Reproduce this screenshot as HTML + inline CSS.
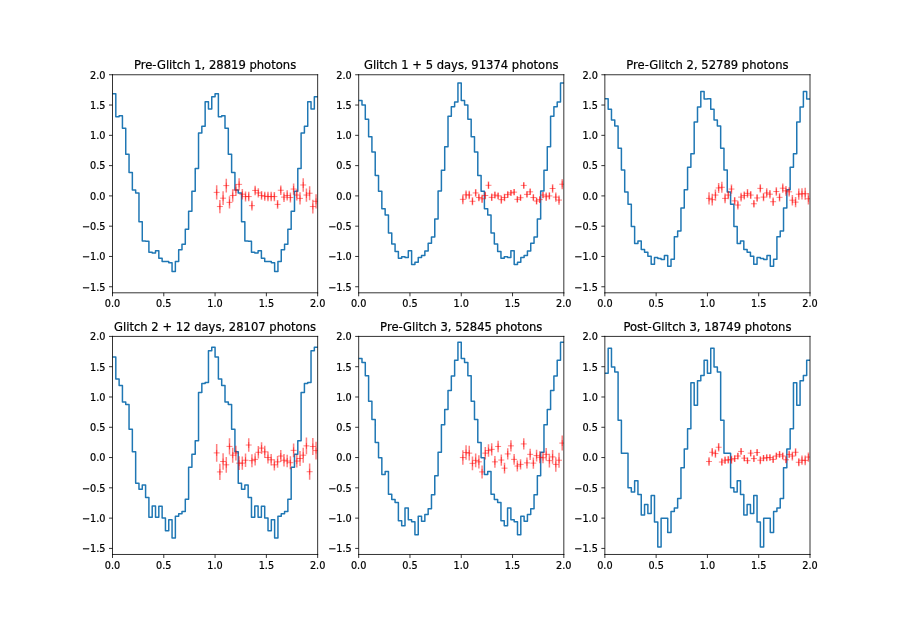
<!DOCTYPE html><html><head><meta charset="utf-8"><title>Glitch light curves</title><style>html,body{margin:0;padding:0;background:#fff;}svg{display:block;}text{stroke:#000;stroke-width:0.22px;}</style></head><body><svg width="900" height="623" viewBox="0 0 900 623" version="1.1">
 <defs>
  <style type="text/css">*{stroke-linejoin: round; stroke-linecap: butt}</style>
 </defs>
 <g id="figure_1">
  <g id="patch_1">
   <path d="M 0 623 
L 900 623 
L 900 0 
L 0 0 
z
" style="fill: #ffffff"/>
  </g>
  <g id="axes_1">
   <g id="patch_2">
    <path d="M 112.5 292.81 
L 317.647 292.81 
L 317.647 74.76 
L 112.5 74.76 
z
" style="fill: #ffffff"/>
   </g>
   <g id="matplotlib.axis_1">
    <g id="xtick_1">
     <g id="line2d_1">
      <g>
       <path d="M 0 0 L 0 3.5" transform="translate(112.5 292.81)" style="stroke: #000000; stroke-width: 0.8"/>
      </g>
     </g>
     <g id="text_1">
      <text style="font-size: 9.7px; font-family: 'DejaVu Sans', sans-serif; text-anchor: middle" x="112.5" y="307.408" transform="rotate(-0 112.5 307.408)">0.0</text>
     </g>
    </g>
    <g id="xtick_2">
     <g id="line2d_2">
      <g>
       <path d="M 0 0 L 0 3.5" transform="translate(163.786 292.81)" style="stroke: #000000; stroke-width: 0.8"/>
      </g>
     </g>
     <g id="text_2">
      <text style="font-size: 9.7px; font-family: 'DejaVu Sans', sans-serif; text-anchor: middle" x="163.786" y="307.408" transform="rotate(-0 163.786 307.408)">0.5</text>
     </g>
    </g>
    <g id="xtick_3">
     <g id="line2d_3">
      <g>
       <path d="M 0 0 L 0 3.5" transform="translate(215.073 292.81)" style="stroke: #000000; stroke-width: 0.8"/>
      </g>
     </g>
     <g id="text_3">
      <text style="font-size: 9.7px; font-family: 'DejaVu Sans', sans-serif; text-anchor: middle" x="215.073" y="307.408" transform="rotate(-0 215.073 307.408)">1.0</text>
     </g>
    </g>
    <g id="xtick_4">
     <g id="line2d_4">
      <g>
       <path d="M 0 0 L 0 3.5" transform="translate(266.360 292.81)" style="stroke: #000000; stroke-width: 0.8"/>
      </g>
     </g>
     <g id="text_4">
      <text style="font-size: 9.7px; font-family: 'DejaVu Sans', sans-serif; text-anchor: middle" x="266.360" y="307.408" transform="rotate(-0 266.360 307.408)">1.5</text>
     </g>
    </g>
    <g id="xtick_5">
     <g id="line2d_5">
      <g>
       <path d="M 0 0 L 0 3.5" transform="translate(317.647 292.81)" style="stroke: #000000; stroke-width: 0.8"/>
      </g>
     </g>
     <g id="text_5">
      <text style="font-size: 9.7px; font-family: 'DejaVu Sans', sans-serif; text-anchor: middle" x="317.647" y="307.408" transform="rotate(-0 317.647 307.408)">2.0</text>
     </g>
    </g>
   </g>
   <g id="matplotlib.axis_2">
    <g id="ytick_1">
     <g id="line2d_6">
      <g>
       <path d="M 0 0 L -3.5 0" transform="translate(112.5 286.753)" style="stroke: #000000; stroke-width: 0.8"/>
      </g>
     </g>
     <g id="text_6">
      <text style="font-size: 9.7px; font-family: 'DejaVu Sans', sans-serif; text-anchor: end" x="105.5" y="290.552" transform="rotate(-0 105.5 290.552)">−1.5</text>
     </g>
    </g>
    <g id="ytick_2">
     <g id="line2d_7">
      <g>
       <path d="M 0 0 L -3.5 0" transform="translate(112.5 256.468)" style="stroke: #000000; stroke-width: 0.8"/>
      </g>
     </g>
     <g id="text_7">
      <text style="font-size: 9.7px; font-family: 'DejaVu Sans', sans-serif; text-anchor: end" x="105.5" y="260.267" transform="rotate(-0 105.5 260.267)">−1.0</text>
     </g>
    </g>
    <g id="ytick_3">
     <g id="line2d_8">
      <g>
       <path d="M 0 0 L -3.5 0" transform="translate(112.5 226.183)" style="stroke: #000000; stroke-width: 0.8"/>
      </g>
     </g>
     <g id="text_8">
      <text style="font-size: 9.7px; font-family: 'DejaVu Sans', sans-serif; text-anchor: end" x="105.5" y="229.982" transform="rotate(-0 105.5 229.982)">−0.5</text>
     </g>
    </g>
    <g id="ytick_4">
     <g id="line2d_9">
      <g>
       <path d="M 0 0 L -3.5 0" transform="translate(112.5 195.898)" style="stroke: #000000; stroke-width: 0.8"/>
      </g>
     </g>
     <g id="text_9">
      <text style="font-size: 9.7px; font-family: 'DejaVu Sans', sans-serif; text-anchor: end" x="105.5" y="199.698" transform="rotate(-0 105.5 199.698)">0.0</text>
     </g>
    </g>
    <g id="ytick_5">
     <g id="line2d_10">
      <g>
       <path d="M 0 0 L -3.5 0" transform="translate(112.5 165.614)" style="stroke: #000000; stroke-width: 0.8"/>
      </g>
     </g>
     <g id="text_10">
      <text style="font-size: 9.7px; font-family: 'DejaVu Sans', sans-serif; text-anchor: end" x="105.5" y="169.413" transform="rotate(-0 105.5 169.413)">0.5</text>
     </g>
    </g>
    <g id="ytick_6">
     <g id="line2d_11">
      <g>
       <path d="M 0 0 L -3.5 0" transform="translate(112.5 135.329)" style="stroke: #000000; stroke-width: 0.8"/>
      </g>
     </g>
     <g id="text_11">
      <text style="font-size: 9.7px; font-family: 'DejaVu Sans', sans-serif; text-anchor: end" x="105.5" y="139.128" transform="rotate(-0 105.5 139.128)">1.0</text>
     </g>
    </g>
    <g id="ytick_7">
     <g id="line2d_12">
      <g>
       <path d="M 0 0 L -3.5 0" transform="translate(112.5 105.044)" style="stroke: #000000; stroke-width: 0.8"/>
      </g>
     </g>
     <g id="text_12">
      <text style="font-size: 9.7px; font-family: 'DejaVu Sans', sans-serif; text-anchor: end" x="105.5" y="108.843" transform="rotate(-0 105.5 108.843)">1.5</text>
     </g>
    </g>
    <g id="ytick_8">
     <g id="line2d_13">
      <g>
       <path d="M 0 0 L -3.5 0" transform="translate(112.5 74.76)" style="stroke: #000000; stroke-width: 0.8"/>
      </g>
     </g>
     <g id="text_13">
      <text style="font-size: 9.7px; font-family: 'DejaVu Sans', sans-serif; text-anchor: end" x="105.5" y="78.559" transform="rotate(-0 105.5 78.559)">2.0</text>
     </g>
    </g>
   </g>
   <g id="line2d_14">
    <path d="M 112.5 93.718 
L 115.808 93.718 
L 115.808 116.734 
L 119.117 116.734 
L 119.117 115.765 
L 122.426 115.765 
L 122.426 128.242 
L 125.735 128.242 
L 125.735 154.166 
L 129.044 154.166 
L 129.044 172.519 
L 132.352 172.519 
L 132.352 190.023 
L 135.661 190.023 
L 135.661 193.052 
L 138.970 193.052 
L 138.970 221.762 
L 142.279 221.762 
L 142.279 240.962 
L 145.588 240.962 
L 145.588 241.325 
L 148.897 241.325 
L 148.897 252.167 
L 152.205 252.167 
L 152.205 252.955 
L 155.514 252.955 
L 155.514 250.774 
L 158.823 250.774 
L 158.823 258.164 
L 162.132 258.164 
L 162.132 261.495 
L 165.441 261.495 
L 165.441 261.495 
L 168.75 261.495 
L 168.75 262.646 
L 172.058 262.646 
L 172.058 271.489 
L 175.367 271.489 
L 175.367 261.495 
L 178.676 261.495 
L 178.676 249.805 
L 181.985 249.805 
L 181.985 244.293 
L 185.294 244.293 
L 185.294 229.272 
L 188.602 229.272 
L 188.602 211.222 
L 191.911 211.222 
L 191.911 191.356 
L 195.220 191.356 
L 195.220 168.521 
L 198.529 168.521 
L 198.529 132.906 
L 201.838 132.906 
L 201.838 126.244 
L 205.147 126.244 
L 205.147 101.713 
L 208.455 101.713 
L 208.455 109.042 
L 211.764 109.042 
L 211.764 96.686 
L 215.073 96.686 
L 215.073 93.718 
L 218.382 93.718 
L 218.382 116.734 
L 221.691 116.734 
L 221.691 115.765 
L 225 115.765 
L 225 128.242 
L 228.308 128.242 
L 228.308 154.166 
L 231.617 154.166 
L 231.617 172.519 
L 234.926 172.519 
L 234.926 190.023 
L 238.235 190.023 
L 238.235 193.052 
L 241.544 193.052 
L 241.544 221.762 
L 244.852 221.762 
L 244.852 240.962 
L 248.161 240.962 
L 248.161 241.325 
L 251.470 241.325 
L 251.470 252.167 
L 254.779 252.167 
L 254.779 252.955 
L 258.088 252.955 
L 258.088 250.774 
L 261.397 250.774 
L 261.397 258.164 
L 264.705 258.164 
L 264.705 261.495 
L 268.014 261.495 
L 268.014 261.495 
L 271.323 261.495 
L 271.323 262.646 
L 274.632 262.646 
L 274.632 271.489 
L 277.941 271.489 
L 277.941 261.495 
L 281.25 261.495 
L 281.25 249.805 
L 284.558 249.805 
L 284.558 244.293 
L 287.867 244.293 
L 287.867 229.272 
L 291.176 229.272 
L 291.176 211.222 
L 294.485 211.222 
L 294.485 191.356 
L 297.794 191.356 
L 297.794 168.521 
L 301.102 168.521 
L 301.102 132.906 
L 304.411 132.906 
L 304.411 126.244 
L 307.720 126.244 
L 307.720 101.713 
L 311.029 101.713 
L 311.029 109.042 
L 314.338 109.042 
L 314.338 96.686 
L 317.647 96.686 
L 317.647 96.686 
" clip-path="url(#p9d9ce31a6b)" style="fill: none; stroke: #1f77b4; stroke-width: 1.5; stroke-linecap: square"/>
   </g>
   <g id="LineCollection_1">
    <path d="M 216.676 199.472 
L 216.676 185.299 
" clip-path="url(#p9d9ce31a6b)" style="fill: none; stroke: #ff0000; stroke-opacity: 0.5; stroke-width: 1.5"/>
    <path d="M 219.881 213.221 
L 219.881 199.896 
" clip-path="url(#p9d9ce31a6b)" style="fill: none; stroke: #ff0000; stroke-opacity: 0.5; stroke-width: 1.5"/>
    <path d="M 223.087 205.105 
L 223.087 191.295 
" clip-path="url(#p9d9ce31a6b)" style="fill: none; stroke: #ff0000; stroke-opacity: 0.5; stroke-width: 1.5"/>
    <path d="M 226.292 192.385 
L 226.292 178.818 
" clip-path="url(#p9d9ce31a6b)" style="fill: none; stroke: #ff0000; stroke-opacity: 0.5; stroke-width: 1.5"/>
    <path d="M 229.497 208.618 
L 229.497 196.141 
" clip-path="url(#p9d9ce31a6b)" style="fill: none; stroke: #ff0000; stroke-opacity: 0.5; stroke-width: 1.5"/>
    <path d="M 232.703 201.713 
L 232.703 189.236 
" clip-path="url(#p9d9ce31a6b)" style="fill: none; stroke: #ff0000; stroke-opacity: 0.5; stroke-width: 1.5"/>
    <path d="M 235.908 196.080 
L 235.908 183.966 
" clip-path="url(#p9d9ce31a6b)" style="fill: none; stroke: #ff0000; stroke-opacity: 0.5; stroke-width: 1.5"/>
    <path d="M 239.114 190.447 
L 239.114 178.333 
" clip-path="url(#p9d9ce31a6b)" style="fill: none; stroke: #ff0000; stroke-opacity: 0.5; stroke-width: 1.5"/>
    <path d="M 242.319 199.411 
L 242.319 188.993 
" clip-path="url(#p9d9ce31a6b)" style="fill: none; stroke: #ff0000; stroke-opacity: 0.5; stroke-width: 1.5"/>
    <path d="M 245.525 201.592 
L 245.525 191.537 
" clip-path="url(#p9d9ce31a6b)" style="fill: none; stroke: #ff0000; stroke-opacity: 0.5; stroke-width: 1.5"/>
    <path d="M 248.730 201.350 
L 248.730 191.780 
" clip-path="url(#p9d9ce31a6b)" style="fill: none; stroke: #ff0000; stroke-opacity: 0.5; stroke-width: 1.5"/>
    <path d="M 251.935 210.435 
L 251.935 200.865 
" clip-path="url(#p9d9ce31a6b)" style="fill: none; stroke: #ff0000; stroke-opacity: 0.5; stroke-width: 1.5"/>
    <path d="M 255.141 195.232 
L 255.141 185.662 
" clip-path="url(#p9d9ce31a6b)" style="fill: none; stroke: #ff0000; stroke-opacity: 0.5; stroke-width: 1.5"/>
    <path d="M 258.346 197.534 
L 258.346 188.327 
" clip-path="url(#p9d9ce31a6b)" style="fill: none; stroke: #ff0000; stroke-opacity: 0.5; stroke-width: 1.5"/>
    <path d="M 261.552 199.835 
L 261.552 191.113 
" clip-path="url(#p9d9ce31a6b)" style="fill: none; stroke: #ff0000; stroke-opacity: 0.5; stroke-width: 1.5"/>
    <path d="M 264.757 200.865 
L 264.757 191.659 
" clip-path="url(#p9d9ce31a6b)" style="fill: none; stroke: #ff0000; stroke-opacity: 0.5; stroke-width: 1.5"/>
    <path d="M 267.963 201.289 
L 267.963 191.840 
" clip-path="url(#p9d9ce31a6b)" style="fill: none; stroke: #ff0000; stroke-opacity: 0.5; stroke-width: 1.5"/>
    <path d="M 271.168 201.289 
L 271.168 191.840 
" clip-path="url(#p9d9ce31a6b)" style="fill: none; stroke: #ff0000; stroke-opacity: 0.5; stroke-width: 1.5"/>
    <path d="M 274.373 201.168 
L 274.373 191.961 
" clip-path="url(#p9d9ce31a6b)" style="fill: none; stroke: #ff0000; stroke-opacity: 0.5; stroke-width: 1.5"/>
    <path d="M 277.579 208.739 
L 277.579 200.017 
" clip-path="url(#p9d9ce31a6b)" style="fill: none; stroke: #ff0000; stroke-opacity: 0.5; stroke-width: 1.5"/>
    <path d="M 280.784 195.050 
L 280.784 185.480 
" clip-path="url(#p9d9ce31a6b)" style="fill: none; stroke: #ff0000; stroke-opacity: 0.5; stroke-width: 1.5"/>
    <path d="M 283.990 201.895 
L 283.990 192.325 
" clip-path="url(#p9d9ce31a6b)" style="fill: none; stroke: #ff0000; stroke-opacity: 0.5; stroke-width: 1.5"/>
    <path d="M 287.195 200.623 
L 287.195 190.326 
" clip-path="url(#p9d9ce31a6b)" style="fill: none; stroke: #ff0000; stroke-opacity: 0.5; stroke-width: 1.5"/>
    <path d="M 290.400 202.622 
L 290.400 192.446 
" clip-path="url(#p9d9ce31a6b)" style="fill: none; stroke: #ff0000; stroke-opacity: 0.5; stroke-width: 1.5"/>
    <path d="M 293.606 194.687 
L 293.606 183.421 
" clip-path="url(#p9d9ce31a6b)" style="fill: none; stroke: #ff0000; stroke-opacity: 0.5; stroke-width: 1.5"/>
    <path d="M 296.811 200.502 
L 296.811 189.599 
" clip-path="url(#p9d9ce31a6b)" style="fill: none; stroke: #ff0000; stroke-opacity: 0.5; stroke-width: 1.5"/>
    <path d="M 300.017 204.439 
L 300.017 192.325 
" clip-path="url(#p9d9ce31a6b)" style="fill: none; stroke: #ff0000; stroke-opacity: 0.5; stroke-width: 1.5"/>
    <path d="M 303.222 191.659 
L 303.222 178.333 
" clip-path="url(#p9d9ce31a6b)" style="fill: none; stroke: #ff0000; stroke-opacity: 0.5; stroke-width: 1.5"/>
    <path d="M 306.428 201.713 
L 306.428 188.388 
" clip-path="url(#p9d9ce31a6b)" style="fill: none; stroke: #ff0000; stroke-opacity: 0.5; stroke-width: 1.5"/>
    <path d="M 309.633 200.138 
L 309.633 186.328 
" clip-path="url(#p9d9ce31a6b)" style="fill: none; stroke: #ff0000; stroke-opacity: 0.5; stroke-width: 1.5"/>
    <path d="M 312.838 213.464 
L 312.838 199.654 
" clip-path="url(#p9d9ce31a6b)" style="fill: none; stroke: #ff0000; stroke-opacity: 0.5; stroke-width: 1.5"/>
    <path d="M 316.044 208.376 
L 316.044 194.202 
" clip-path="url(#p9d9ce31a6b)" style="fill: none; stroke: #ff0000; stroke-opacity: 0.5; stroke-width: 1.5"/>
   </g>
   <g id="line2d_15">
    <g clip-path="url(#p9d9ce31a6b)">
     <path d="M -3 0 L 3 0 M 0 3 L 0 -3" transform="translate(216.676 192.385)" style="fill: #ff0000; fill-opacity: 0.5; stroke: #ff0000; stroke-opacity: 0.5"/>
     <path d="M -3 0 L 3 0 M 0 3 L 0 -3" transform="translate(219.881 206.559)" style="fill: #ff0000; fill-opacity: 0.5; stroke: #ff0000; stroke-opacity: 0.5"/>
     <path d="M -3 0 L 3 0 M 0 3 L 0 -3" transform="translate(223.087 198.200)" style="fill: #ff0000; fill-opacity: 0.5; stroke: #ff0000; stroke-opacity: 0.5"/>
     <path d="M -3 0 L 3 0 M 0 3 L 0 -3" transform="translate(226.292 185.602)" style="fill: #ff0000; fill-opacity: 0.5; stroke: #ff0000; stroke-opacity: 0.5"/>
     <path d="M -3 0 L 3 0 M 0 3 L 0 -3" transform="translate(229.497 202.379)" style="fill: #ff0000; fill-opacity: 0.5; stroke: #ff0000; stroke-opacity: 0.5"/>
     <path d="M -3 0 L 3 0 M 0 3 L 0 -3" transform="translate(232.703 195.474)" style="fill: #ff0000; fill-opacity: 0.5; stroke: #ff0000; stroke-opacity: 0.5"/>
     <path d="M -3 0 L 3 0 M 0 3 L 0 -3" transform="translate(235.908 190.023)" style="fill: #ff0000; fill-opacity: 0.5; stroke: #ff0000; stroke-opacity: 0.5"/>
     <path d="M -3 0 L 3 0 M 0 3 L 0 -3" transform="translate(239.114 184.390)" style="fill: #ff0000; fill-opacity: 0.5; stroke: #ff0000; stroke-opacity: 0.5"/>
     <path d="M -3 0 L 3 0 M 0 3 L 0 -3" transform="translate(242.319 194.202)" style="fill: #ff0000; fill-opacity: 0.5; stroke: #ff0000; stroke-opacity: 0.5"/>
     <path d="M -3 0 L 3 0 M 0 3 L 0 -3" transform="translate(245.525 196.565)" style="fill: #ff0000; fill-opacity: 0.5; stroke: #ff0000; stroke-opacity: 0.5"/>
     <path d="M -3 0 L 3 0 M 0 3 L 0 -3" transform="translate(248.730 196.565)" style="fill: #ff0000; fill-opacity: 0.5; stroke: #ff0000; stroke-opacity: 0.5"/>
     <path d="M -3 0 L 3 0 M 0 3 L 0 -3" transform="translate(251.935 205.650)" style="fill: #ff0000; fill-opacity: 0.5; stroke: #ff0000; stroke-opacity: 0.5"/>
     <path d="M -3 0 L 3 0 M 0 3 L 0 -3" transform="translate(255.141 190.447)" style="fill: #ff0000; fill-opacity: 0.5; stroke: #ff0000; stroke-opacity: 0.5"/>
     <path d="M -3 0 L 3 0 M 0 3 L 0 -3" transform="translate(258.346 192.930)" style="fill: #ff0000; fill-opacity: 0.5; stroke: #ff0000; stroke-opacity: 0.5"/>
     <path d="M -3 0 L 3 0 M 0 3 L 0 -3" transform="translate(261.552 195.474)" style="fill: #ff0000; fill-opacity: 0.5; stroke: #ff0000; stroke-opacity: 0.5"/>
     <path d="M -3 0 L 3 0 M 0 3 L 0 -3" transform="translate(264.757 196.262)" style="fill: #ff0000; fill-opacity: 0.5; stroke: #ff0000; stroke-opacity: 0.5"/>
     <path d="M -3 0 L 3 0 M 0 3 L 0 -3" transform="translate(267.963 196.565)" style="fill: #ff0000; fill-opacity: 0.5; stroke: #ff0000; stroke-opacity: 0.5"/>
     <path d="M -3 0 L 3 0 M 0 3 L 0 -3" transform="translate(271.168 196.565)" style="fill: #ff0000; fill-opacity: 0.5; stroke: #ff0000; stroke-opacity: 0.5"/>
     <path d="M -3 0 L 3 0 M 0 3 L 0 -3" transform="translate(274.373 196.565)" style="fill: #ff0000; fill-opacity: 0.5; stroke: #ff0000; stroke-opacity: 0.5"/>
     <path d="M -3 0 L 3 0 M 0 3 L 0 -3" transform="translate(277.579 204.378)" style="fill: #ff0000; fill-opacity: 0.5; stroke: #ff0000; stroke-opacity: 0.5"/>
     <path d="M -3 0 L 3 0 M 0 3 L 0 -3" transform="translate(280.784 190.265)" style="fill: #ff0000; fill-opacity: 0.5; stroke: #ff0000; stroke-opacity: 0.5"/>
     <path d="M -3 0 L 3 0 M 0 3 L 0 -3" transform="translate(283.990 197.110)" style="fill: #ff0000; fill-opacity: 0.5; stroke: #ff0000; stroke-opacity: 0.5"/>
     <path d="M -3 0 L 3 0 M 0 3 L 0 -3" transform="translate(287.195 195.474)" style="fill: #ff0000; fill-opacity: 0.5; stroke: #ff0000; stroke-opacity: 0.5"/>
     <path d="M -3 0 L 3 0 M 0 3 L 0 -3" transform="translate(290.400 197.534)" style="fill: #ff0000; fill-opacity: 0.5; stroke: #ff0000; stroke-opacity: 0.5"/>
     <path d="M -3 0 L 3 0 M 0 3 L 0 -3" transform="translate(293.606 189.054)" style="fill: #ff0000; fill-opacity: 0.5; stroke: #ff0000; stroke-opacity: 0.5"/>
     <path d="M -3 0 L 3 0 M 0 3 L 0 -3" transform="translate(296.811 195.050)" style="fill: #ff0000; fill-opacity: 0.5; stroke: #ff0000; stroke-opacity: 0.5"/>
     <path d="M -3 0 L 3 0 M 0 3 L 0 -3" transform="translate(300.017 198.382)" style="fill: #ff0000; fill-opacity: 0.5; stroke: #ff0000; stroke-opacity: 0.5"/>
     <path d="M -3 0 L 3 0 M 0 3 L 0 -3" transform="translate(303.222 184.996)" style="fill: #ff0000; fill-opacity: 0.5; stroke: #ff0000; stroke-opacity: 0.5"/>
     <path d="M -3 0 L 3 0 M 0 3 L 0 -3" transform="translate(306.428 195.050)" style="fill: #ff0000; fill-opacity: 0.5; stroke: #ff0000; stroke-opacity: 0.5"/>
     <path d="M -3 0 L 3 0 M 0 3 L 0 -3" transform="translate(309.633 193.233)" style="fill: #ff0000; fill-opacity: 0.5; stroke: #ff0000; stroke-opacity: 0.5"/>
     <path d="M -3 0 L 3 0 M 0 3 L 0 -3" transform="translate(312.838 206.559)" style="fill: #ff0000; fill-opacity: 0.5; stroke: #ff0000; stroke-opacity: 0.5"/>
     <path d="M -3 0 L 3 0 M 0 3 L 0 -3" transform="translate(316.044 201.289)" style="fill: #ff0000; fill-opacity: 0.5; stroke: #ff0000; stroke-opacity: 0.5"/>
    </g>
   </g>
   <g id="patch_3">
    <path d="M 112.5 292.81 
L 112.5 74.76 
" style="fill: none; stroke: #000000; stroke-width: 0.8; stroke-linejoin: miter; stroke-linecap: square"/>
   </g>
   <g id="patch_4">
    <path d="M 317.647 292.81 
L 317.647 74.76 
" style="fill: none; stroke: #000000; stroke-width: 0.8; stroke-linejoin: miter; stroke-linecap: square"/>
   </g>
   <g id="patch_5">
    <path d="M 112.5 292.81 
L 317.647 292.81 
" style="fill: none; stroke: #000000; stroke-width: 0.8; stroke-linejoin: miter; stroke-linecap: square"/>
   </g>
   <g id="patch_6">
    <path d="M 112.5 74.76 
L 317.647 74.76 
" style="fill: none; stroke: #000000; stroke-width: 0.8; stroke-linejoin: miter; stroke-linecap: square"/>
   </g>
   <g id="text_14">
    <text style="font-size: 12px; font-family: 'DejaVu Sans', sans-serif; text-anchor: middle" x="215.073" y="68.76" transform="translate(215.074 0.3) scale(0.965 1) translate(-215.074 0)">Pre-Glitch 1, 28819 photons</text>
   </g>
  </g>
  <g id="axes_2">
   <g id="patch_7">
    <path d="M 358.676 292.81 
L 563.823 292.81 
L 563.823 74.76 
L 358.676 74.76 
z
" style="fill: #ffffff"/>
   </g>
   <g id="matplotlib.axis_3">
    <g id="xtick_6">
     <g id="line2d_16">
      <g>
       <path d="M 0 0 L 0 3.5" transform="translate(358.676 292.81)" style="stroke: #000000; stroke-width: 0.8"/>
      </g>
     </g>
     <g id="text_15">
      <text style="font-size: 9.7px; font-family: 'DejaVu Sans', sans-serif; text-anchor: middle" x="358.676" y="307.408" transform="rotate(-0 358.676 307.408)">0.0</text>
     </g>
    </g>
    <g id="xtick_7">
     <g id="line2d_17">
      <g>
       <path d="M 0 0 L 0 3.5" transform="translate(409.963 292.81)" style="stroke: #000000; stroke-width: 0.8"/>
      </g>
     </g>
     <g id="text_16">
      <text style="font-size: 9.7px; font-family: 'DejaVu Sans', sans-serif; text-anchor: middle" x="409.963" y="307.408" transform="rotate(-0 409.963 307.408)">0.5</text>
     </g>
    </g>
    <g id="xtick_8">
     <g id="line2d_18">
      <g>
       <path d="M 0 0 L 0 3.5" transform="translate(461.25 292.81)" style="stroke: #000000; stroke-width: 0.8"/>
      </g>
     </g>
     <g id="text_17">
      <text style="font-size: 9.7px; font-family: 'DejaVu Sans', sans-serif; text-anchor: middle" x="461.25" y="307.408" transform="rotate(-0 461.25 307.408)">1.0</text>
     </g>
    </g>
    <g id="xtick_9">
     <g id="line2d_19">
      <g>
       <path d="M 0 0 L 0 3.5" transform="translate(512.536 292.81)" style="stroke: #000000; stroke-width: 0.8"/>
      </g>
     </g>
     <g id="text_18">
      <text style="font-size: 9.7px; font-family: 'DejaVu Sans', sans-serif; text-anchor: middle" x="512.536" y="307.408" transform="rotate(-0 512.536 307.408)">1.5</text>
     </g>
    </g>
    <g id="xtick_10">
     <g id="line2d_20">
      <g>
       <path d="M 0 0 L 0 3.5" transform="translate(563.823 292.81)" style="stroke: #000000; stroke-width: 0.8"/>
      </g>
     </g>
     <g id="text_19">
      <text style="font-size: 9.7px; font-family: 'DejaVu Sans', sans-serif; text-anchor: middle" x="563.823" y="307.408" transform="rotate(-0 563.823 307.408)">2.0</text>
     </g>
    </g>
   </g>
   <g id="matplotlib.axis_4">
    <g id="ytick_9">
     <g id="line2d_21">
      <g>
       <path d="M 0 0 L -3.5 0" transform="translate(358.676 286.753)" style="stroke: #000000; stroke-width: 0.8"/>
      </g>
     </g>
     <g id="text_20">
      <text style="font-size: 9.7px; font-family: 'DejaVu Sans', sans-serif; text-anchor: end" x="351.676" y="290.552" transform="rotate(-0 351.676 290.552)">−1.5</text>
     </g>
    </g>
    <g id="ytick_10">
     <g id="line2d_22">
      <g>
       <path d="M 0 0 L -3.5 0" transform="translate(358.676 256.468)" style="stroke: #000000; stroke-width: 0.8"/>
      </g>
     </g>
     <g id="text_21">
      <text style="font-size: 9.7px; font-family: 'DejaVu Sans', sans-serif; text-anchor: end" x="351.676" y="260.267" transform="rotate(-0 351.676 260.267)">−1.0</text>
     </g>
    </g>
    <g id="ytick_11">
     <g id="line2d_23">
      <g>
       <path d="M 0 0 L -3.5 0" transform="translate(358.676 226.183)" style="stroke: #000000; stroke-width: 0.8"/>
      </g>
     </g>
     <g id="text_22">
      <text style="font-size: 9.7px; font-family: 'DejaVu Sans', sans-serif; text-anchor: end" x="351.676" y="229.982" transform="rotate(-0 351.676 229.982)">−0.5</text>
     </g>
    </g>
    <g id="ytick_12">
     <g id="line2d_24">
      <g>
       <path d="M 0 0 L -3.5 0" transform="translate(358.676 195.898)" style="stroke: #000000; stroke-width: 0.8"/>
      </g>
     </g>
     <g id="text_23">
      <text style="font-size: 9.7px; font-family: 'DejaVu Sans', sans-serif; text-anchor: end" x="351.676" y="199.698" transform="rotate(-0 351.676 199.698)">0.0</text>
     </g>
    </g>
    <g id="ytick_13">
     <g id="line2d_25">
      <g>
       <path d="M 0 0 L -3.5 0" transform="translate(358.676 165.614)" style="stroke: #000000; stroke-width: 0.8"/>
      </g>
     </g>
     <g id="text_24">
      <text style="font-size: 9.7px; font-family: 'DejaVu Sans', sans-serif; text-anchor: end" x="351.676" y="169.413" transform="rotate(-0 351.676 169.413)">0.5</text>
     </g>
    </g>
    <g id="ytick_14">
     <g id="line2d_26">
      <g>
       <path d="M 0 0 L -3.5 0" transform="translate(358.676 135.329)" style="stroke: #000000; stroke-width: 0.8"/>
      </g>
     </g>
     <g id="text_25">
      <text style="font-size: 9.7px; font-family: 'DejaVu Sans', sans-serif; text-anchor: end" x="351.676" y="139.128" transform="rotate(-0 351.676 139.128)">1.0</text>
     </g>
    </g>
    <g id="ytick_15">
     <g id="line2d_27">
      <g>
       <path d="M 0 0 L -3.5 0" transform="translate(358.676 105.044)" style="stroke: #000000; stroke-width: 0.8"/>
      </g>
     </g>
     <g id="text_26">
      <text style="font-size: 9.7px; font-family: 'DejaVu Sans', sans-serif; text-anchor: end" x="351.676" y="108.843" transform="rotate(-0 351.676 108.843)">1.5</text>
     </g>
    </g>
    <g id="ytick_16">
     <g id="line2d_28">
      <g>
       <path d="M 0 0 L -3.5 0" transform="translate(358.676 74.76)" style="stroke: #000000; stroke-width: 0.8"/>
      </g>
     </g>
     <g id="text_27">
      <text style="font-size: 9.7px; font-family: 'DejaVu Sans', sans-serif; text-anchor: end" x="351.676" y="78.559" transform="rotate(-0 351.676 78.559)">2.0</text>
     </g>
    </g>
   </g>
   <g id="line2d_29">
    <path d="M 358.676 100.380 
L 361.985 100.380 
L 361.985 105.044 
L 365.294 105.044 
L 365.294 119.278 
L 368.602 119.278 
L 368.602 136.783 
L 371.911 136.783 
L 371.911 152.107 
L 375.220 152.107 
L 375.220 175.486 
L 378.529 175.486 
L 378.529 191.356 
L 381.838 191.356 
L 381.838 208.739 
L 385.147 208.739 
L 385.147 215.099 
L 388.455 215.099 
L 388.455 233.088 
L 391.764 233.088 
L 391.764 243.930 
L 395.073 243.930 
L 395.073 251.441 
L 398.382 251.441 
L 398.382 258.164 
L 401.691 258.164 
L 401.691 256.831 
L 405 256.831 
L 405 257.619 
L 408.308 257.619 
L 408.308 250.653 
L 411.617 250.653 
L 411.617 264.463 
L 414.926 264.463 
L 414.926 262.343 
L 418.235 262.343 
L 418.235 257.619 
L 421.544 257.619 
L 421.544 255.620 
L 424.852 255.620 
L 424.852 250.956 
L 428.161 250.956 
L 428.161 243.143 
L 431.470 243.143 
L 431.470 237.086 
L 434.779 237.086 
L 434.779 218.915 
L 438.088 218.915 
L 438.088 191.053 
L 441.397 191.053 
L 441.397 170.217 
L 444.705 170.217 
L 444.705 146.777 
L 448.014 146.777 
L 448.014 116.250 
L 451.323 116.250 
L 451.323 106.740 
L 454.632 106.740 
L 454.632 102.076 
L 457.941 102.076 
L 457.941 82.876 
L 461.25 82.876 
L 461.25 100.380 
L 464.558 100.380 
L 464.558 105.044 
L 467.867 105.044 
L 467.867 119.278 
L 471.176 119.278 
L 471.176 136.783 
L 474.485 136.783 
L 474.485 152.107 
L 477.794 152.107 
L 477.794 175.486 
L 481.102 175.486 
L 481.102 191.356 
L 484.411 191.356 
L 484.411 208.739 
L 487.720 208.739 
L 487.720 215.099 
L 491.029 215.099 
L 491.029 233.088 
L 494.338 233.088 
L 494.338 243.930 
L 497.647 243.930 
L 497.647 251.441 
L 500.955 251.441 
L 500.955 258.164 
L 504.264 258.164 
L 504.264 256.831 
L 507.573 256.831 
L 507.573 257.619 
L 510.882 257.619 
L 510.882 250.653 
L 514.191 250.653 
L 514.191 264.463 
L 517.5 264.463 
L 517.5 262.343 
L 520.808 262.343 
L 520.808 257.619 
L 524.117 257.619 
L 524.117 255.620 
L 527.426 255.620 
L 527.426 250.956 
L 530.735 250.956 
L 530.735 243.143 
L 534.044 243.143 
L 534.044 237.086 
L 537.352 237.086 
L 537.352 218.915 
L 540.661 218.915 
L 540.661 191.053 
L 543.970 191.053 
L 543.970 170.217 
L 547.279 170.217 
L 547.279 146.777 
L 550.588 146.777 
L 550.588 116.250 
L 553.897 116.250 
L 553.897 106.740 
L 557.205 106.740 
L 557.205 102.076 
L 560.514 102.076 
L 560.514 82.876 
L 563.823 82.876 
L 563.823 82.876 
" clip-path="url(#p3eddc019a9)" style="fill: none; stroke: #1f77b4; stroke-width: 1.5; stroke-linecap: square"/>
   </g>
   <g id="LineCollection_2">
    <path d="M 462.852 204.136 
L 462.852 194.566 
" clip-path="url(#p3eddc019a9)" style="fill: none; stroke: #ff0000; stroke-opacity: 0.5; stroke-width: 1.5"/>
    <path d="M 466.058 199.230 
L 466.058 190.508 
" clip-path="url(#p3eddc019a9)" style="fill: none; stroke: #ff0000; stroke-opacity: 0.5; stroke-width: 1.5"/>
    <path d="M 469.263 199.230 
L 469.263 190.871 
" clip-path="url(#p3eddc019a9)" style="fill: none; stroke: #ff0000; stroke-opacity: 0.5; stroke-width: 1.5"/>
    <path d="M 472.468 205.226 
L 472.468 197.352 
" clip-path="url(#p3eddc019a9)" style="fill: none; stroke: #ff0000; stroke-opacity: 0.5; stroke-width: 1.5"/>
    <path d="M 475.674 196.807 
L 475.674 189.054 
" clip-path="url(#p3eddc019a9)" style="fill: none; stroke: #ff0000; stroke-opacity: 0.5; stroke-width: 1.5"/>
    <path d="M 478.879 201.289 
L 478.879 193.778 
" clip-path="url(#p3eddc019a9)" style="fill: none; stroke: #ff0000; stroke-opacity: 0.5; stroke-width: 1.5"/>
    <path d="M 482.085 202.985 
L 482.085 194.626 
" clip-path="url(#p3eddc019a9)" style="fill: none; stroke: #ff0000; stroke-opacity: 0.5; stroke-width: 1.5"/>
    <path d="M 485.290 199.169 
L 485.290 191.780 
" clip-path="url(#p3eddc019a9)" style="fill: none; stroke: #ff0000; stroke-opacity: 0.5; stroke-width: 1.5"/>
    <path d="M 488.496 189.054 
L 488.496 181.543 
" clip-path="url(#p3eddc019a9)" style="fill: none; stroke: #ff0000; stroke-opacity: 0.5; stroke-width: 1.5"/>
    <path d="M 491.701 201.107 
L 491.701 193.597 
" clip-path="url(#p3eddc019a9)" style="fill: none; stroke: #ff0000; stroke-opacity: 0.5; stroke-width: 1.5"/>
    <path d="M 494.906 198.624 
L 494.906 191.477 
" clip-path="url(#p3eddc019a9)" style="fill: none; stroke: #ff0000; stroke-opacity: 0.5; stroke-width: 1.5"/>
    <path d="M 498.112 199.230 
L 498.112 192.567 
" clip-path="url(#p3eddc019a9)" style="fill: none; stroke: #ff0000; stroke-opacity: 0.5; stroke-width: 1.5"/>
    <path d="M 501.317 203.833 
L 501.317 195.474 
" clip-path="url(#p3eddc019a9)" style="fill: none; stroke: #ff0000; stroke-opacity: 0.5; stroke-width: 1.5"/>
    <path d="M 504.523 201.289 
L 504.523 193.778 
" clip-path="url(#p3eddc019a9)" style="fill: none; stroke: #ff0000; stroke-opacity: 0.5; stroke-width: 1.5"/>
    <path d="M 507.728 197.958 
L 507.728 191.295 
" clip-path="url(#p3eddc019a9)" style="fill: none; stroke: #ff0000; stroke-opacity: 0.5; stroke-width: 1.5"/>
    <path d="M 510.934 195.838 
L 510.934 190.023 
" clip-path="url(#p3eddc019a9)" style="fill: none; stroke: #ff0000; stroke-opacity: 0.5; stroke-width: 1.5"/>
    <path d="M 514.139 195.293 
L 514.139 188.993 
" clip-path="url(#p3eddc019a9)" style="fill: none; stroke: #ff0000; stroke-opacity: 0.5; stroke-width: 1.5"/>
    <path d="M 517.344 202.500 
L 517.344 196.201 
" clip-path="url(#p3eddc019a9)" style="fill: none; stroke: #ff0000; stroke-opacity: 0.5; stroke-width: 1.5"/>
    <path d="M 520.550 200.865 
L 520.550 194.566 
" clip-path="url(#p3eddc019a9)" style="fill: none; stroke: #ff0000; stroke-opacity: 0.5; stroke-width: 1.5"/>
    <path d="M 523.755 188.630 
L 523.755 182.210 
" clip-path="url(#p3eddc019a9)" style="fill: none; stroke: #ff0000; stroke-opacity: 0.5; stroke-width: 1.5"/>
    <path d="M 526.961 197.534 
L 526.961 191.235 
" clip-path="url(#p3eddc019a9)" style="fill: none; stroke: #ff0000; stroke-opacity: 0.5; stroke-width: 1.5"/>
    <path d="M 530.166 195.111 
L 530.166 188.569 
" clip-path="url(#p3eddc019a9)" style="fill: none; stroke: #ff0000; stroke-opacity: 0.5; stroke-width: 1.5"/>
    <path d="M 533.372 200.865 
L 533.372 194.202 
" clip-path="url(#p3eddc019a9)" style="fill: none; stroke: #ff0000; stroke-opacity: 0.5; stroke-width: 1.5"/>
    <path d="M 536.577 204.620 
L 536.577 197.473 
" clip-path="url(#p3eddc019a9)" style="fill: none; stroke: #ff0000; stroke-opacity: 0.5; stroke-width: 1.5"/>
    <path d="M 539.782 202.985 
L 539.782 196.322 
" clip-path="url(#p3eddc019a9)" style="fill: none; stroke: #ff0000; stroke-opacity: 0.5; stroke-width: 1.5"/>
    <path d="M 542.988 198.200 
L 542.988 191.901 
" clip-path="url(#p3eddc019a9)" style="fill: none; stroke: #ff0000; stroke-opacity: 0.5; stroke-width: 1.5"/>
    <path d="M 546.193 200.926 
L 546.193 192.567 
" clip-path="url(#p3eddc019a9)" style="fill: none; stroke: #ff0000; stroke-opacity: 0.5; stroke-width: 1.5"/>
    <path d="M 549.399 199.533 
L 549.399 192.264 
" clip-path="url(#p3eddc019a9)" style="fill: none; stroke: #ff0000; stroke-opacity: 0.5; stroke-width: 1.5"/>
    <path d="M 552.604 192.688 
L 552.604 184.330 
" clip-path="url(#p3eddc019a9)" style="fill: none; stroke: #ff0000; stroke-opacity: 0.5; stroke-width: 1.5"/>
    <path d="M 555.809 201.713 
L 555.809 192.507 
" clip-path="url(#p3eddc019a9)" style="fill: none; stroke: #ff0000; stroke-opacity: 0.5; stroke-width: 1.5"/>
    <path d="M 559.015 204.681 
L 559.015 195.474 
" clip-path="url(#p3eddc019a9)" style="fill: none; stroke: #ff0000; stroke-opacity: 0.5; stroke-width: 1.5"/>
    <path d="M 562.220 189.236 
L 562.220 179.181 
" clip-path="url(#p3eddc019a9)" style="fill: none; stroke: #ff0000; stroke-opacity: 0.5; stroke-width: 1.5"/>
   </g>
   <g id="line2d_30">
    <g clip-path="url(#p3eddc019a9)">
     <path d="M -3 0 L 3 0 M 0 3 L 0 -3" transform="translate(462.852 199.351)" style="fill: #ff0000; fill-opacity: 0.5; stroke: #ff0000; stroke-opacity: 0.5"/>
     <path d="M -3 0 L 3 0 M 0 3 L 0 -3" transform="translate(466.058 194.869)" style="fill: #ff0000; fill-opacity: 0.5; stroke: #ff0000; stroke-opacity: 0.5"/>
     <path d="M -3 0 L 3 0 M 0 3 L 0 -3" transform="translate(469.263 195.050)" style="fill: #ff0000; fill-opacity: 0.5; stroke: #ff0000; stroke-opacity: 0.5"/>
     <path d="M -3 0 L 3 0 M 0 3 L 0 -3" transform="translate(472.468 201.289)" style="fill: #ff0000; fill-opacity: 0.5; stroke: #ff0000; stroke-opacity: 0.5"/>
     <path d="M -3 0 L 3 0 M 0 3 L 0 -3" transform="translate(475.674 192.930)" style="fill: #ff0000; fill-opacity: 0.5; stroke: #ff0000; stroke-opacity: 0.5"/>
     <path d="M -3 0 L 3 0 M 0 3 L 0 -3" transform="translate(478.879 197.534)" style="fill: #ff0000; fill-opacity: 0.5; stroke: #ff0000; stroke-opacity: 0.5"/>
     <path d="M -3 0 L 3 0 M 0 3 L 0 -3" transform="translate(482.085 198.806)" style="fill: #ff0000; fill-opacity: 0.5; stroke: #ff0000; stroke-opacity: 0.5"/>
     <path d="M -3 0 L 3 0 M 0 3 L 0 -3" transform="translate(485.290 195.474)" style="fill: #ff0000; fill-opacity: 0.5; stroke: #ff0000; stroke-opacity: 0.5"/>
     <path d="M -3 0 L 3 0 M 0 3 L 0 -3" transform="translate(488.496 185.299)" style="fill: #ff0000; fill-opacity: 0.5; stroke: #ff0000; stroke-opacity: 0.5"/>
     <path d="M -3 0 L 3 0 M 0 3 L 0 -3" transform="translate(491.701 197.352)" style="fill: #ff0000; fill-opacity: 0.5; stroke: #ff0000; stroke-opacity: 0.5"/>
     <path d="M -3 0 L 3 0 M 0 3 L 0 -3" transform="translate(494.906 195.050)" style="fill: #ff0000; fill-opacity: 0.5; stroke: #ff0000; stroke-opacity: 0.5"/>
     <path d="M -3 0 L 3 0 M 0 3 L 0 -3" transform="translate(498.112 195.898)" style="fill: #ff0000; fill-opacity: 0.5; stroke: #ff0000; stroke-opacity: 0.5"/>
     <path d="M -3 0 L 3 0 M 0 3 L 0 -3" transform="translate(501.317 199.654)" style="fill: #ff0000; fill-opacity: 0.5; stroke: #ff0000; stroke-opacity: 0.5"/>
     <path d="M -3 0 L 3 0 M 0 3 L 0 -3" transform="translate(504.523 197.534)" style="fill: #ff0000; fill-opacity: 0.5; stroke: #ff0000; stroke-opacity: 0.5"/>
     <path d="M -3 0 L 3 0 M 0 3 L 0 -3" transform="translate(507.728 194.626)" style="fill: #ff0000; fill-opacity: 0.5; stroke: #ff0000; stroke-opacity: 0.5"/>
     <path d="M -3 0 L 3 0 M 0 3 L 0 -3" transform="translate(510.934 192.930)" style="fill: #ff0000; fill-opacity: 0.5; stroke: #ff0000; stroke-opacity: 0.5"/>
     <path d="M -3 0 L 3 0 M 0 3 L 0 -3" transform="translate(514.139 192.143)" style="fill: #ff0000; fill-opacity: 0.5; stroke: #ff0000; stroke-opacity: 0.5"/>
     <path d="M -3 0 L 3 0 M 0 3 L 0 -3" transform="translate(517.344 199.351)" style="fill: #ff0000; fill-opacity: 0.5; stroke: #ff0000; stroke-opacity: 0.5"/>
     <path d="M -3 0 L 3 0 M 0 3 L 0 -3" transform="translate(520.550 197.715)" style="fill: #ff0000; fill-opacity: 0.5; stroke: #ff0000; stroke-opacity: 0.5"/>
     <path d="M -3 0 L 3 0 M 0 3 L 0 -3" transform="translate(523.755 185.420)" style="fill: #ff0000; fill-opacity: 0.5; stroke: #ff0000; stroke-opacity: 0.5"/>
     <path d="M -3 0 L 3 0 M 0 3 L 0 -3" transform="translate(526.961 194.384)" style="fill: #ff0000; fill-opacity: 0.5; stroke: #ff0000; stroke-opacity: 0.5"/>
     <path d="M -3 0 L 3 0 M 0 3 L 0 -3" transform="translate(530.166 191.840)" style="fill: #ff0000; fill-opacity: 0.5; stroke: #ff0000; stroke-opacity: 0.5"/>
     <path d="M -3 0 L 3 0 M 0 3 L 0 -3" transform="translate(533.372 197.534)" style="fill: #ff0000; fill-opacity: 0.5; stroke: #ff0000; stroke-opacity: 0.5"/>
     <path d="M -3 0 L 3 0 M 0 3 L 0 -3" transform="translate(536.577 201.047)" style="fill: #ff0000; fill-opacity: 0.5; stroke: #ff0000; stroke-opacity: 0.5"/>
     <path d="M -3 0 L 3 0 M 0 3 L 0 -3" transform="translate(539.782 199.654)" style="fill: #ff0000; fill-opacity: 0.5; stroke: #ff0000; stroke-opacity: 0.5"/>
     <path d="M -3 0 L 3 0 M 0 3 L 0 -3" transform="translate(542.988 195.050)" style="fill: #ff0000; fill-opacity: 0.5; stroke: #ff0000; stroke-opacity: 0.5"/>
     <path d="M -3 0 L 3 0 M 0 3 L 0 -3" transform="translate(546.193 196.746)" style="fill: #ff0000; fill-opacity: 0.5; stroke: #ff0000; stroke-opacity: 0.5"/>
     <path d="M -3 0 L 3 0 M 0 3 L 0 -3" transform="translate(549.399 195.898)" style="fill: #ff0000; fill-opacity: 0.5; stroke: #ff0000; stroke-opacity: 0.5"/>
     <path d="M -3 0 L 3 0 M 0 3 L 0 -3" transform="translate(552.604 188.509)" style="fill: #ff0000; fill-opacity: 0.5; stroke: #ff0000; stroke-opacity: 0.5"/>
     <path d="M -3 0 L 3 0 M 0 3 L 0 -3" transform="translate(555.809 197.110)" style="fill: #ff0000; fill-opacity: 0.5; stroke: #ff0000; stroke-opacity: 0.5"/>
     <path d="M -3 0 L 3 0 M 0 3 L 0 -3" transform="translate(559.015 200.078)" style="fill: #ff0000; fill-opacity: 0.5; stroke: #ff0000; stroke-opacity: 0.5"/>
     <path d="M -3 0 L 3 0 M 0 3 L 0 -3" transform="translate(562.220 184.208)" style="fill: #ff0000; fill-opacity: 0.5; stroke: #ff0000; stroke-opacity: 0.5"/>
    </g>
   </g>
   <g id="patch_8">
    <path d="M 358.676 292.81 
L 358.676 74.76 
" style="fill: none; stroke: #000000; stroke-width: 0.8; stroke-linejoin: miter; stroke-linecap: square"/>
   </g>
   <g id="patch_9">
    <path d="M 563.823 292.81 
L 563.823 74.76 
" style="fill: none; stroke: #000000; stroke-width: 0.8; stroke-linejoin: miter; stroke-linecap: square"/>
   </g>
   <g id="patch_10">
    <path d="M 358.676 292.81 
L 563.823 292.81 
" style="fill: none; stroke: #000000; stroke-width: 0.8; stroke-linejoin: miter; stroke-linecap: square"/>
   </g>
   <g id="patch_11">
    <path d="M 358.676 74.76 
L 563.823 74.76 
" style="fill: none; stroke: #000000; stroke-width: 0.8; stroke-linejoin: miter; stroke-linecap: square"/>
   </g>
   <g id="text_28">
    <text style="font-size: 12px; font-family: 'DejaVu Sans', sans-serif; text-anchor: middle" x="461.25" y="68.76" transform="translate(461.250 0.3) scale(0.965 1) translate(-461.250 0)">Glitch 1 + 5 days, 91374 photons</text>
   </g>
  </g>
  <g id="axes_3">
   <g id="patch_12">
    <path d="M 604.852 292.81 
L 810 292.81 
L 810 74.76 
L 604.852 74.76 
z
" style="fill: #ffffff"/>
   </g>
   <g id="matplotlib.axis_5">
    <g id="xtick_11">
     <g id="line2d_31">
      <g>
       <path d="M 0 0 L 0 3.5" transform="translate(604.852 292.81)" style="stroke: #000000; stroke-width: 0.8"/>
      </g>
     </g>
     <g id="text_29">
      <text style="font-size: 9.7px; font-family: 'DejaVu Sans', sans-serif; text-anchor: middle" x="604.852" y="307.408" transform="rotate(-0 604.852 307.408)">0.0</text>
     </g>
    </g>
    <g id="xtick_12">
     <g id="line2d_32">
      <g>
       <path d="M 0 0 L 0 3.5" transform="translate(656.139 292.81)" style="stroke: #000000; stroke-width: 0.8"/>
      </g>
     </g>
     <g id="text_30">
      <text style="font-size: 9.7px; font-family: 'DejaVu Sans', sans-serif; text-anchor: middle" x="656.139" y="307.408" transform="rotate(-0 656.139 307.408)">0.5</text>
     </g>
    </g>
    <g id="xtick_13">
     <g id="line2d_33">
      <g>
       <path d="M 0 0 L 0 3.5" transform="translate(707.426 292.81)" style="stroke: #000000; stroke-width: 0.8"/>
      </g>
     </g>
     <g id="text_31">
      <text style="font-size: 9.7px; font-family: 'DejaVu Sans', sans-serif; text-anchor: middle" x="707.426" y="307.408" transform="rotate(-0 707.426 307.408)">1.0</text>
     </g>
    </g>
    <g id="xtick_14">
     <g id="line2d_34">
      <g>
       <path d="M 0 0 L 0 3.5" transform="translate(758.713 292.81)" style="stroke: #000000; stroke-width: 0.8"/>
      </g>
     </g>
     <g id="text_32">
      <text style="font-size: 9.7px; font-family: 'DejaVu Sans', sans-serif; text-anchor: middle" x="758.713" y="307.408" transform="rotate(-0 758.713 307.408)">1.5</text>
     </g>
    </g>
    <g id="xtick_15">
     <g id="line2d_35">
      <g>
       <path d="M 0 0 L 0 3.5" transform="translate(810 292.81)" style="stroke: #000000; stroke-width: 0.8"/>
      </g>
     </g>
     <g id="text_33">
      <text style="font-size: 9.7px; font-family: 'DejaVu Sans', sans-serif; text-anchor: middle" x="810" y="307.408" transform="rotate(-0 810 307.408)">2.0</text>
     </g>
    </g>
   </g>
   <g id="matplotlib.axis_6">
    <g id="ytick_17">
     <g id="line2d_36">
      <g>
       <path d="M 0 0 L -3.5 0" transform="translate(604.852 286.753)" style="stroke: #000000; stroke-width: 0.8"/>
      </g>
     </g>
     <g id="text_34">
      <text style="font-size: 9.7px; font-family: 'DejaVu Sans', sans-serif; text-anchor: end" x="597.852" y="290.552" transform="rotate(-0 597.852 290.552)">−1.5</text>
     </g>
    </g>
    <g id="ytick_18">
     <g id="line2d_37">
      <g>
       <path d="M 0 0 L -3.5 0" transform="translate(604.852 256.468)" style="stroke: #000000; stroke-width: 0.8"/>
      </g>
     </g>
     <g id="text_35">
      <text style="font-size: 9.7px; font-family: 'DejaVu Sans', sans-serif; text-anchor: end" x="597.852" y="260.267" transform="rotate(-0 597.852 260.267)">−1.0</text>
     </g>
    </g>
    <g id="ytick_19">
     <g id="line2d_38">
      <g>
       <path d="M 0 0 L -3.5 0" transform="translate(604.852 226.183)" style="stroke: #000000; stroke-width: 0.8"/>
      </g>
     </g>
     <g id="text_36">
      <text style="font-size: 9.7px; font-family: 'DejaVu Sans', sans-serif; text-anchor: end" x="597.852" y="229.982" transform="rotate(-0 597.852 229.982)">−0.5</text>
     </g>
    </g>
    <g id="ytick_20">
     <g id="line2d_39">
      <g>
       <path d="M 0 0 L -3.5 0" transform="translate(604.852 195.898)" style="stroke: #000000; stroke-width: 0.8"/>
      </g>
     </g>
     <g id="text_37">
      <text style="font-size: 9.7px; font-family: 'DejaVu Sans', sans-serif; text-anchor: end" x="597.852" y="199.698" transform="rotate(-0 597.852 199.698)">0.0</text>
     </g>
    </g>
    <g id="ytick_21">
     <g id="line2d_40">
      <g>
       <path d="M 0 0 L -3.5 0" transform="translate(604.852 165.614)" style="stroke: #000000; stroke-width: 0.8"/>
      </g>
     </g>
     <g id="text_38">
      <text style="font-size: 9.7px; font-family: 'DejaVu Sans', sans-serif; text-anchor: end" x="597.852" y="169.413" transform="rotate(-0 597.852 169.413)">0.5</text>
     </g>
    </g>
    <g id="ytick_22">
     <g id="line2d_41">
      <g>
       <path d="M 0 0 L -3.5 0" transform="translate(604.852 135.329)" style="stroke: #000000; stroke-width: 0.8"/>
      </g>
     </g>
     <g id="text_39">
      <text style="font-size: 9.7px; font-family: 'DejaVu Sans', sans-serif; text-anchor: end" x="597.852" y="139.128" transform="rotate(-0 597.852 139.128)">1.0</text>
     </g>
    </g>
    <g id="ytick_23">
     <g id="line2d_42">
      <g>
       <path d="M 0 0 L -3.5 0" transform="translate(604.852 105.044)" style="stroke: #000000; stroke-width: 0.8"/>
      </g>
     </g>
     <g id="text_40">
      <text style="font-size: 9.7px; font-family: 'DejaVu Sans', sans-serif; text-anchor: end" x="597.852" y="108.843" transform="rotate(-0 597.852 108.843)">1.5</text>
     </g>
    </g>
    <g id="ytick_24">
     <g id="line2d_43">
      <g>
       <path d="M 0 0 L -3.5 0" transform="translate(604.852 74.76)" style="stroke: #000000; stroke-width: 0.8"/>
      </g>
     </g>
     <g id="text_41">
      <text style="font-size: 9.7px; font-family: 'DejaVu Sans', sans-serif; text-anchor: end" x="597.852" y="78.559" transform="rotate(-0 597.852 78.559)">2.0</text>
     </g>
    </g>
   </g>
   <g id="line2d_44">
    <path d="M 604.852 98.745 
L 608.161 98.745 
L 608.161 109.224 
L 611.470 109.224 
L 611.470 119.944 
L 614.779 119.944 
L 614.779 125.941 
L 618.088 125.941 
L 618.088 148.291 
L 621.397 148.291 
L 621.397 169.975 
L 624.705 169.975 
L 624.705 192.022 
L 628.014 192.022 
L 628.014 204.196 
L 631.323 204.196 
L 631.323 226.425 
L 634.632 226.425 
L 634.632 243.445 
L 637.941 243.445 
L 637.941 240.962 
L 641.25 240.962 
L 641.25 249.623 
L 644.558 249.623 
L 644.558 252.289 
L 647.867 252.289 
L 647.867 256.286 
L 651.176 256.286 
L 651.176 264.342 
L 654.485 264.342 
L 654.485 257.619 
L 657.794 257.619 
L 657.794 258.467 
L 661.102 258.467 
L 661.102 259.617 
L 664.411 259.617 
L 664.411 255.438 
L 667.720 255.438 
L 667.720 266.341 
L 671.029 266.341 
L 671.029 259.315 
L 674.338 259.315 
L 674.338 236.783 
L 677.647 236.783 
L 677.647 230.908 
L 680.955 230.908 
L 680.955 207.891 
L 684.264 207.891 
L 684.264 189.720 
L 687.573 189.720 
L 687.573 167.188 
L 690.882 167.188 
L 690.882 153.803 
L 694.191 153.803 
L 694.191 122.064 
L 697.5 122.064 
L 697.5 107.043 
L 700.808 107.043 
L 700.808 91.537 
L 704.117 91.537 
L 704.117 99.048 
L 707.426 99.048 
L 707.426 98.745 
L 710.735 98.745 
L 710.735 109.224 
L 714.044 109.224 
L 714.044 119.944 
L 717.352 119.944 
L 717.352 125.941 
L 720.661 125.941 
L 720.661 148.291 
L 723.970 148.291 
L 723.970 169.975 
L 727.279 169.975 
L 727.279 192.022 
L 730.588 192.022 
L 730.588 204.196 
L 733.897 204.196 
L 733.897 226.425 
L 737.205 226.425 
L 737.205 243.445 
L 740.514 243.445 
L 740.514 240.962 
L 743.823 240.962 
L 743.823 249.623 
L 747.132 249.623 
L 747.132 252.289 
L 750.441 252.289 
L 750.441 256.286 
L 753.75 256.286 
L 753.75 264.342 
L 757.058 264.342 
L 757.058 257.619 
L 760.367 257.619 
L 760.367 258.467 
L 763.676 258.467 
L 763.676 259.617 
L 766.985 259.617 
L 766.985 255.438 
L 770.294 255.438 
L 770.294 266.341 
L 773.602 266.341 
L 773.602 259.315 
L 776.911 259.315 
L 776.911 236.783 
L 780.220 236.783 
L 780.220 230.908 
L 783.529 230.908 
L 783.529 207.891 
L 786.838 207.891 
L 786.838 189.720 
L 790.147 189.720 
L 790.147 167.188 
L 793.455 167.188 
L 793.455 153.803 
L 796.764 153.803 
L 796.764 122.064 
L 800.073 122.064 
L 800.073 107.043 
L 803.382 107.043 
L 803.382 91.537 
L 806.691 91.537 
L 806.691 99.048 
L 810 99.048 
L 810 99.048 
" clip-path="url(#p5869acaab5)" style="fill: none; stroke: #1f77b4; stroke-width: 1.5; stroke-linecap: square"/>
   </g>
   <g id="LineCollection_3">
    <path d="M 709.029 204.439 
L 709.029 192.325 
" clip-path="url(#p5869acaab5)" style="fill: none; stroke: #ff0000; stroke-opacity: 0.5; stroke-width: 1.5"/>
    <path d="M 712.234 205.468 
L 712.234 193.839 
" clip-path="url(#p5869acaab5)" style="fill: none; stroke: #ff0000; stroke-opacity: 0.5; stroke-width: 1.5"/>
    <path d="M 715.440 200.683 
L 715.440 189.417 
" clip-path="url(#p5869acaab5)" style="fill: none; stroke: #ff0000; stroke-opacity: 0.5; stroke-width: 1.5"/>
    <path d="M 718.645 192.991 
L 718.645 182.937 
" clip-path="url(#p5869acaab5)" style="fill: none; stroke: #ff0000; stroke-opacity: 0.5; stroke-width: 1.5"/>
    <path d="M 721.850 192.749 
L 721.850 181.846 
" clip-path="url(#p5869acaab5)" style="fill: none; stroke: #ff0000; stroke-opacity: 0.5; stroke-width: 1.5"/>
    <path d="M 725.056 203.167 
L 725.056 193.597 
" clip-path="url(#p5869acaab5)" style="fill: none; stroke: #ff0000; stroke-opacity: 0.5; stroke-width: 1.5"/>
    <path d="M 728.261 199.290 
L 728.261 190.811 
" clip-path="url(#p5869acaab5)" style="fill: none; stroke: #ff0000; stroke-opacity: 0.5; stroke-width: 1.5"/>
    <path d="M 731.467 193.657 
L 731.467 184.451 
" clip-path="url(#p5869acaab5)" style="fill: none; stroke: #ff0000; stroke-opacity: 0.5; stroke-width: 1.5"/>
    <path d="M 734.672 204.681 
L 734.672 197.049 
" clip-path="url(#p5869acaab5)" style="fill: none; stroke: #ff0000; stroke-opacity: 0.5; stroke-width: 1.5"/>
    <path d="M 737.877 209.405 
L 737.877 200.683 
" clip-path="url(#p5869acaab5)" style="fill: none; stroke: #ff0000; stroke-opacity: 0.5; stroke-width: 1.5"/>
    <path d="M 741.083 201.471 
L 741.083 192.749 
" clip-path="url(#p5869acaab5)" style="fill: none; stroke: #ff0000; stroke-opacity: 0.5; stroke-width: 1.5"/>
    <path d="M 744.288 199.533 
L 744.288 191.416 
" clip-path="url(#p5869acaab5)" style="fill: none; stroke: #ff0000; stroke-opacity: 0.5; stroke-width: 1.5"/>
    <path d="M 747.494 197.715 
L 747.494 188.993 
" clip-path="url(#p5869acaab5)" style="fill: none; stroke: #ff0000; stroke-opacity: 0.5; stroke-width: 1.5"/>
    <path d="M 750.699 198.987 
L 750.699 191.113 
" clip-path="url(#p5869acaab5)" style="fill: none; stroke: #ff0000; stroke-opacity: 0.5; stroke-width: 1.5"/>
    <path d="M 753.905 207.528 
L 753.905 200.017 
" clip-path="url(#p5869acaab5)" style="fill: none; stroke: #ff0000; stroke-opacity: 0.5; stroke-width: 1.5"/>
    <path d="M 757.110 201.713 
L 757.110 194.202 
" clip-path="url(#p5869acaab5)" style="fill: none; stroke: #ff0000; stroke-opacity: 0.5; stroke-width: 1.5"/>
    <path d="M 760.315 192.567 
L 760.315 184.208 
" clip-path="url(#p5869acaab5)" style="fill: none; stroke: #ff0000; stroke-opacity: 0.5; stroke-width: 1.5"/>
    <path d="M 763.521 201.289 
L 763.521 192.930 
" clip-path="url(#p5869acaab5)" style="fill: none; stroke: #ff0000; stroke-opacity: 0.5; stroke-width: 1.5"/>
    <path d="M 766.726 197.534 
L 766.726 188.327 
" clip-path="url(#p5869acaab5)" style="fill: none; stroke: #ff0000; stroke-opacity: 0.5; stroke-width: 1.5"/>
    <path d="M 769.932 198.382 
L 769.932 190.023 
" clip-path="url(#p5869acaab5)" style="fill: none; stroke: #ff0000; stroke-opacity: 0.5; stroke-width: 1.5"/>
    <path d="M 773.137 205.892 
L 773.137 197.534 
" clip-path="url(#p5869acaab5)" style="fill: none; stroke: #ff0000; stroke-opacity: 0.5; stroke-width: 1.5"/>
    <path d="M 776.343 195.717 
L 776.343 187.358 
" clip-path="url(#p5869acaab5)" style="fill: none; stroke: #ff0000; stroke-opacity: 0.5; stroke-width: 1.5"/>
    <path d="M 779.548 201.531 
L 779.548 193.173 
" clip-path="url(#p5869acaab5)" style="fill: none; stroke: #ff0000; stroke-opacity: 0.5; stroke-width: 1.5"/>
    <path d="M 782.753 192.809 
L 782.753 183.603 
" clip-path="url(#p5869acaab5)" style="fill: none; stroke: #ff0000; stroke-opacity: 0.5; stroke-width: 1.5"/>
    <path d="M 785.959 195.656 
L 785.959 186.086 
" clip-path="url(#p5869acaab5)" style="fill: none; stroke: #ff0000; stroke-opacity: 0.5; stroke-width: 1.5"/>
    <path d="M 789.164 196.444 
L 789.164 187.237 
" clip-path="url(#p5869acaab5)" style="fill: none; stroke: #ff0000; stroke-opacity: 0.5; stroke-width: 1.5"/>
    <path d="M 792.370 205.408 
L 792.370 194.990 
" clip-path="url(#p5869acaab5)" style="fill: none; stroke: #ff0000; stroke-opacity: 0.5; stroke-width: 1.5"/>
    <path d="M 795.575 207.346 
L 795.575 196.928 
" clip-path="url(#p5869acaab5)" style="fill: none; stroke: #ff0000; stroke-opacity: 0.5; stroke-width: 1.5"/>
    <path d="M 798.781 199.835 
L 798.781 188.569 
" clip-path="url(#p5869acaab5)" style="fill: none; stroke: #ff0000; stroke-opacity: 0.5; stroke-width: 1.5"/>
    <path d="M 801.986 199.411 
L 801.986 188.146 
" clip-path="url(#p5869acaab5)" style="fill: none; stroke: #ff0000; stroke-opacity: 0.5; stroke-width: 1.5"/>
    <path d="M 805.191 199.835 
L 805.191 187.722 
" clip-path="url(#p5869acaab5)" style="fill: none; stroke: #ff0000; stroke-opacity: 0.5; stroke-width: 1.5"/>
    <path d="M 808.397 204.620 
L 808.397 192.991 
" clip-path="url(#p5869acaab5)" style="fill: none; stroke: #ff0000; stroke-opacity: 0.5; stroke-width: 1.5"/>
   </g>
   <g id="line2d_45">
    <g clip-path="url(#p5869acaab5)">
     <path d="M -3 0 L 3 0 M 0 3 L 0 -3" transform="translate(709.029 198.382)" style="fill: #ff0000; fill-opacity: 0.5; stroke: #ff0000; stroke-opacity: 0.5"/>
     <path d="M -3 0 L 3 0 M 0 3 L 0 -3" transform="translate(712.234 199.654)" style="fill: #ff0000; fill-opacity: 0.5; stroke: #ff0000; stroke-opacity: 0.5"/>
     <path d="M -3 0 L 3 0 M 0 3 L 0 -3" transform="translate(715.440 195.050)" style="fill: #ff0000; fill-opacity: 0.5; stroke: #ff0000; stroke-opacity: 0.5"/>
     <path d="M -3 0 L 3 0 M 0 3 L 0 -3" transform="translate(718.645 187.964)" style="fill: #ff0000; fill-opacity: 0.5; stroke: #ff0000; stroke-opacity: 0.5"/>
     <path d="M -3 0 L 3 0 M 0 3 L 0 -3" transform="translate(721.850 187.298)" style="fill: #ff0000; fill-opacity: 0.5; stroke: #ff0000; stroke-opacity: 0.5"/>
     <path d="M -3 0 L 3 0 M 0 3 L 0 -3" transform="translate(725.056 198.382)" style="fill: #ff0000; fill-opacity: 0.5; stroke: #ff0000; stroke-opacity: 0.5"/>
     <path d="M -3 0 L 3 0 M 0 3 L 0 -3" transform="translate(728.261 195.050)" style="fill: #ff0000; fill-opacity: 0.5; stroke: #ff0000; stroke-opacity: 0.5"/>
     <path d="M -3 0 L 3 0 M 0 3 L 0 -3" transform="translate(731.467 189.054)" style="fill: #ff0000; fill-opacity: 0.5; stroke: #ff0000; stroke-opacity: 0.5"/>
     <path d="M -3 0 L 3 0 M 0 3 L 0 -3" transform="translate(734.672 200.865)" style="fill: #ff0000; fill-opacity: 0.5; stroke: #ff0000; stroke-opacity: 0.5"/>
     <path d="M -3 0 L 3 0 M 0 3 L 0 -3" transform="translate(737.877 205.044)" style="fill: #ff0000; fill-opacity: 0.5; stroke: #ff0000; stroke-opacity: 0.5"/>
     <path d="M -3 0 L 3 0 M 0 3 L 0 -3" transform="translate(741.083 197.110)" style="fill: #ff0000; fill-opacity: 0.5; stroke: #ff0000; stroke-opacity: 0.5"/>
     <path d="M -3 0 L 3 0 M 0 3 L 0 -3" transform="translate(744.288 195.474)" style="fill: #ff0000; fill-opacity: 0.5; stroke: #ff0000; stroke-opacity: 0.5"/>
     <path d="M -3 0 L 3 0 M 0 3 L 0 -3" transform="translate(747.494 193.354)" style="fill: #ff0000; fill-opacity: 0.5; stroke: #ff0000; stroke-opacity: 0.5"/>
     <path d="M -3 0 L 3 0 M 0 3 L 0 -3" transform="translate(750.699 195.050)" style="fill: #ff0000; fill-opacity: 0.5; stroke: #ff0000; stroke-opacity: 0.5"/>
     <path d="M -3 0 L 3 0 M 0 3 L 0 -3" transform="translate(753.905 203.772)" style="fill: #ff0000; fill-opacity: 0.5; stroke: #ff0000; stroke-opacity: 0.5"/>
     <path d="M -3 0 L 3 0 M 0 3 L 0 -3" transform="translate(757.110 197.958)" style="fill: #ff0000; fill-opacity: 0.5; stroke: #ff0000; stroke-opacity: 0.5"/>
     <path d="M -3 0 L 3 0 M 0 3 L 0 -3" transform="translate(760.315 188.388)" style="fill: #ff0000; fill-opacity: 0.5; stroke: #ff0000; stroke-opacity: 0.5"/>
     <path d="M -3 0 L 3 0 M 0 3 L 0 -3" transform="translate(763.521 197.110)" style="fill: #ff0000; fill-opacity: 0.5; stroke: #ff0000; stroke-opacity: 0.5"/>
     <path d="M -3 0 L 3 0 M 0 3 L 0 -3" transform="translate(766.726 192.930)" style="fill: #ff0000; fill-opacity: 0.5; stroke: #ff0000; stroke-opacity: 0.5"/>
     <path d="M -3 0 L 3 0 M 0 3 L 0 -3" transform="translate(769.932 194.202)" style="fill: #ff0000; fill-opacity: 0.5; stroke: #ff0000; stroke-opacity: 0.5"/>
     <path d="M -3 0 L 3 0 M 0 3 L 0 -3" transform="translate(773.137 201.713)" style="fill: #ff0000; fill-opacity: 0.5; stroke: #ff0000; stroke-opacity: 0.5"/>
     <path d="M -3 0 L 3 0 M 0 3 L 0 -3" transform="translate(776.343 191.537)" style="fill: #ff0000; fill-opacity: 0.5; stroke: #ff0000; stroke-opacity: 0.5"/>
     <path d="M -3 0 L 3 0 M 0 3 L 0 -3" transform="translate(779.548 197.352)" style="fill: #ff0000; fill-opacity: 0.5; stroke: #ff0000; stroke-opacity: 0.5"/>
     <path d="M -3 0 L 3 0 M 0 3 L 0 -3" transform="translate(782.753 188.206)" style="fill: #ff0000; fill-opacity: 0.5; stroke: #ff0000; stroke-opacity: 0.5"/>
     <path d="M -3 0 L 3 0 M 0 3 L 0 -3" transform="translate(785.959 190.871)" style="fill: #ff0000; fill-opacity: 0.5; stroke: #ff0000; stroke-opacity: 0.5"/>
     <path d="M -3 0 L 3 0 M 0 3 L 0 -3" transform="translate(789.164 191.840)" style="fill: #ff0000; fill-opacity: 0.5; stroke: #ff0000; stroke-opacity: 0.5"/>
     <path d="M -3 0 L 3 0 M 0 3 L 0 -3" transform="translate(792.370 200.199)" style="fill: #ff0000; fill-opacity: 0.5; stroke: #ff0000; stroke-opacity: 0.5"/>
     <path d="M -3 0 L 3 0 M 0 3 L 0 -3" transform="translate(795.575 202.137)" style="fill: #ff0000; fill-opacity: 0.5; stroke: #ff0000; stroke-opacity: 0.5"/>
     <path d="M -3 0 L 3 0 M 0 3 L 0 -3" transform="translate(798.781 194.202)" style="fill: #ff0000; fill-opacity: 0.5; stroke: #ff0000; stroke-opacity: 0.5"/>
     <path d="M -3 0 L 3 0 M 0 3 L 0 -3" transform="translate(801.986 193.778)" style="fill: #ff0000; fill-opacity: 0.5; stroke: #ff0000; stroke-opacity: 0.5"/>
     <path d="M -3 0 L 3 0 M 0 3 L 0 -3" transform="translate(805.191 193.778)" style="fill: #ff0000; fill-opacity: 0.5; stroke: #ff0000; stroke-opacity: 0.5"/>
     <path d="M -3 0 L 3 0 M 0 3 L 0 -3" transform="translate(808.397 198.806)" style="fill: #ff0000; fill-opacity: 0.5; stroke: #ff0000; stroke-opacity: 0.5"/>
    </g>
   </g>
   <g id="patch_13">
    <path d="M 604.852 292.81 
L 604.852 74.76 
" style="fill: none; stroke: #000000; stroke-width: 0.8; stroke-linejoin: miter; stroke-linecap: square"/>
   </g>
   <g id="patch_14">
    <path d="M 810 292.81 
L 810 74.76 
" style="fill: none; stroke: #000000; stroke-width: 0.8; stroke-linejoin: miter; stroke-linecap: square"/>
   </g>
   <g id="patch_15">
    <path d="M 604.852 292.81 
L 810 292.81 
" style="fill: none; stroke: #000000; stroke-width: 0.8; stroke-linejoin: miter; stroke-linecap: square"/>
   </g>
   <g id="patch_16">
    <path d="M 604.852 74.76 
L 810 74.76 
" style="fill: none; stroke: #000000; stroke-width: 0.8; stroke-linejoin: miter; stroke-linecap: square"/>
   </g>
   <g id="text_42">
    <text style="font-size: 12px; font-family: 'DejaVu Sans', sans-serif; text-anchor: middle" x="707.426" y="68.76" transform="translate(707.426 0.3) scale(0.965 1) translate(-707.426 0)">Pre-Glitch 2, 52789 photons</text>
   </g>
  </g>
  <g id="axes_4">
   <g id="patch_17">
    <path d="M 112.5 554.47 
L 317.647 554.47 
L 317.647 336.42 
L 112.5 336.42 
z
" style="fill: #ffffff"/>
   </g>
   <g id="matplotlib.axis_7">
    <g id="xtick_16">
     <g id="line2d_46">
      <g>
       <path d="M 0 0 L 0 3.5" transform="translate(112.5 554.47)" style="stroke: #000000; stroke-width: 0.8"/>
      </g>
     </g>
     <g id="text_43">
      <text style="font-size: 9.7px; font-family: 'DejaVu Sans', sans-serif; text-anchor: middle" x="112.5" y="569.068" transform="rotate(-0 112.5 569.068)">0.0</text>
     </g>
    </g>
    <g id="xtick_17">
     <g id="line2d_47">
      <g>
       <path d="M 0 0 L 0 3.5" transform="translate(163.786 554.47)" style="stroke: #000000; stroke-width: 0.8"/>
      </g>
     </g>
     <g id="text_44">
      <text style="font-size: 9.7px; font-family: 'DejaVu Sans', sans-serif; text-anchor: middle" x="163.786" y="569.068" transform="rotate(-0 163.786 569.068)">0.5</text>
     </g>
    </g>
    <g id="xtick_18">
     <g id="line2d_48">
      <g>
       <path d="M 0 0 L 0 3.5" transform="translate(215.073 554.47)" style="stroke: #000000; stroke-width: 0.8"/>
      </g>
     </g>
     <g id="text_45">
      <text style="font-size: 9.7px; font-family: 'DejaVu Sans', sans-serif; text-anchor: middle" x="215.073" y="569.068" transform="rotate(-0 215.073 569.068)">1.0</text>
     </g>
    </g>
    <g id="xtick_19">
     <g id="line2d_49">
      <g>
       <path d="M 0 0 L 0 3.5" transform="translate(266.360 554.47)" style="stroke: #000000; stroke-width: 0.8"/>
      </g>
     </g>
     <g id="text_46">
      <text style="font-size: 9.7px; font-family: 'DejaVu Sans', sans-serif; text-anchor: middle" x="266.360" y="569.068" transform="rotate(-0 266.360 569.068)">1.5</text>
     </g>
    </g>
    <g id="xtick_20">
     <g id="line2d_50">
      <g>
       <path d="M 0 0 L 0 3.5" transform="translate(317.647 554.47)" style="stroke: #000000; stroke-width: 0.8"/>
      </g>
     </g>
     <g id="text_47">
      <text style="font-size: 9.7px; font-family: 'DejaVu Sans', sans-serif; text-anchor: middle" x="317.647" y="569.068" transform="rotate(-0 317.647 569.068)">2.0</text>
     </g>
    </g>
   </g>
   <g id="matplotlib.axis_8">
    <g id="ytick_25">
     <g id="line2d_51">
      <g>
       <path d="M 0 0 L -3.5 0" transform="translate(112.5 548.413)" style="stroke: #000000; stroke-width: 0.8"/>
      </g>
     </g>
     <g id="text_48">
      <text style="font-size: 9.7px; font-family: 'DejaVu Sans', sans-serif; text-anchor: end" x="105.5" y="552.212" transform="rotate(-0 105.5 552.212)">−1.5</text>
     </g>
    </g>
    <g id="ytick_26">
     <g id="line2d_52">
      <g>
       <path d="M 0 0 L -3.5 0" transform="translate(112.5 518.128)" style="stroke: #000000; stroke-width: 0.8"/>
      </g>
     </g>
     <g id="text_49">
      <text style="font-size: 9.7px; font-family: 'DejaVu Sans', sans-serif; text-anchor: end" x="105.5" y="521.927" transform="rotate(-0 105.5 521.927)">−1.0</text>
     </g>
    </g>
    <g id="ytick_27">
     <g id="line2d_53">
      <g>
       <path d="M 0 0 L -3.5 0" transform="translate(112.5 487.843)" style="stroke: #000000; stroke-width: 0.8"/>
      </g>
     </g>
     <g id="text_50">
      <text style="font-size: 9.7px; font-family: 'DejaVu Sans', sans-serif; text-anchor: end" x="105.5" y="491.642" transform="rotate(-0 105.5 491.642)">−0.5</text>
     </g>
    </g>
    <g id="ytick_28">
     <g id="line2d_54">
      <g>
       <path d="M 0 0 L -3.5 0" transform="translate(112.5 457.558)" style="stroke: #000000; stroke-width: 0.8"/>
      </g>
     </g>
     <g id="text_51">
      <text style="font-size: 9.7px; font-family: 'DejaVu Sans', sans-serif; text-anchor: end" x="105.5" y="461.358" transform="rotate(-0 105.5 461.358)">0.0</text>
     </g>
    </g>
    <g id="ytick_29">
     <g id="line2d_55">
      <g>
       <path d="M 0 0 L -3.5 0" transform="translate(112.5 427.274)" style="stroke: #000000; stroke-width: 0.8"/>
      </g>
     </g>
     <g id="text_52">
      <text style="font-size: 9.7px; font-family: 'DejaVu Sans', sans-serif; text-anchor: end" x="105.5" y="431.073" transform="rotate(-0 105.5 431.073)">0.5</text>
     </g>
    </g>
    <g id="ytick_30">
     <g id="line2d_56">
      <g>
       <path d="M 0 0 L -3.5 0" transform="translate(112.5 396.989)" style="stroke: #000000; stroke-width: 0.8"/>
      </g>
     </g>
     <g id="text_53">
      <text style="font-size: 9.7px; font-family: 'DejaVu Sans', sans-serif; text-anchor: end" x="105.5" y="400.788" transform="rotate(-0 105.5 400.788)">1.0</text>
     </g>
    </g>
    <g id="ytick_31">
     <g id="line2d_57">
      <g>
       <path d="M 0 0 L -3.5 0" transform="translate(112.5 366.704)" style="stroke: #000000; stroke-width: 0.8"/>
      </g>
     </g>
     <g id="text_54">
      <text style="font-size: 9.7px; font-family: 'DejaVu Sans', sans-serif; text-anchor: end" x="105.5" y="370.503" transform="rotate(-0 105.5 370.503)">1.5</text>
     </g>
    </g>
    <g id="ytick_32">
     <g id="line2d_58">
      <g>
       <path d="M 0 0 L -3.5 0" transform="translate(112.5 336.42)" style="stroke: #000000; stroke-width: 0.8"/>
      </g>
     </g>
     <g id="text_55">
      <text style="font-size: 9.7px; font-family: 'DejaVu Sans', sans-serif; text-anchor: end" x="105.5" y="340.219" transform="rotate(-0 105.5 340.219)">2.0</text>
     </g>
    </g>
   </g>
   <g id="line2d_59">
    <path d="M 112.5 357.013 
L 115.808 357.013 
L 115.808 379.060 
L 119.117 379.060 
L 119.117 385.420 
L 122.426 385.420 
L 122.426 401.956 
L 125.735 401.956 
L 125.735 404.621 
L 129.044 404.621 
L 129.044 429.151 
L 132.352 429.151 
L 132.352 451.683 
L 135.661 451.683 
L 135.661 483.240 
L 138.970 483.240 
L 138.970 489.236 
L 142.279 489.236 
L 142.279 485.117 
L 145.588 485.117 
L 145.588 497.595 
L 148.897 497.595 
L 148.897 517.159 
L 152.205 517.159 
L 152.205 505.953 
L 155.514 505.953 
L 155.514 517.159 
L 158.823 517.159 
L 158.823 506.196 
L 162.132 506.196 
L 162.132 518.067 
L 165.441 518.067 
L 165.441 530.847 
L 168.75 530.847 
L 168.75 519.824 
L 172.058 519.824 
L 172.058 537.995 
L 175.367 537.995 
L 175.367 516.311 
L 178.676 516.311 
L 178.676 513.646 
L 181.985 513.646 
L 181.985 511.526 
L 185.294 511.526 
L 185.294 499.291 
L 188.602 499.291 
L 188.602 467.371 
L 191.911 467.371 
L 191.911 454.227 
L 195.220 454.227 
L 195.220 440.660 
L 198.529 440.660 
L 198.529 392.446 
L 201.838 392.446 
L 201.838 383.603 
L 205.147 383.603 
L 205.147 382.392 
L 208.455 382.392 
L 208.455 350.714 
L 211.764 350.714 
L 211.764 347.322 
L 215.073 347.322 
L 215.073 357.013 
L 218.382 357.013 
L 218.382 379.060 
L 221.691 379.060 
L 221.691 385.420 
L 225 385.420 
L 225 401.956 
L 228.308 401.956 
L 228.308 404.621 
L 231.617 404.621 
L 231.617 429.151 
L 234.926 429.151 
L 234.926 451.683 
L 238.235 451.683 
L 238.235 483.240 
L 241.544 483.240 
L 241.544 489.236 
L 244.852 489.236 
L 244.852 485.117 
L 248.161 485.117 
L 248.161 497.595 
L 251.470 497.595 
L 251.470 517.159 
L 254.779 517.159 
L 254.779 505.953 
L 258.088 505.953 
L 258.088 517.159 
L 261.397 517.159 
L 261.397 506.196 
L 264.705 506.196 
L 264.705 518.067 
L 268.014 518.067 
L 268.014 530.847 
L 271.323 530.847 
L 271.323 519.824 
L 274.632 519.824 
L 274.632 537.995 
L 277.941 537.995 
L 277.941 516.311 
L 281.25 516.311 
L 281.25 513.646 
L 284.558 513.646 
L 284.558 511.526 
L 287.867 511.526 
L 287.867 499.291 
L 291.176 499.291 
L 291.176 467.371 
L 294.485 467.371 
L 294.485 454.227 
L 297.794 454.227 
L 297.794 440.660 
L 301.102 440.660 
L 301.102 392.446 
L 304.411 392.446 
L 304.411 383.603 
L 307.720 383.603 
L 307.720 382.392 
L 311.029 382.392 
L 311.029 350.714 
L 314.338 350.714 
L 314.338 347.322 
L 317.647 347.322 
L 317.647 347.322 
" clip-path="url(#p94d9b85a06)" style="fill: none; stroke: #1f77b4; stroke-width: 1.5; stroke-linecap: square"/>
   </g>
   <g id="LineCollection_4">
    <path d="M 216.676 461.677 
L 216.676 444.112 
" clip-path="url(#p94d9b85a06)" style="fill: none; stroke: #ff0000; stroke-opacity: 0.5; stroke-width: 1.5"/>
    <path d="M 219.881 480.030 
L 219.881 463.797 
" clip-path="url(#p94d9b85a06)" style="fill: none; stroke: #ff0000; stroke-opacity: 0.5; stroke-width: 1.5"/>
    <path d="M 223.087 469.854 
L 223.087 453.137 
" clip-path="url(#p94d9b85a06)" style="fill: none; stroke: #ff0000; stroke-opacity: 0.5; stroke-width: 1.5"/>
    <path d="M 226.292 472.761 
L 226.292 456.892 
" clip-path="url(#p94d9b85a06)" style="fill: none; stroke: #ff0000; stroke-opacity: 0.5; stroke-width: 1.5"/>
    <path d="M 229.497 454.530 
L 229.497 438.297 
" clip-path="url(#p94d9b85a06)" style="fill: none; stroke: #ff0000; stroke-opacity: 0.5; stroke-width: 1.5"/>
    <path d="M 232.703 462.707 
L 232.703 447.686 
" clip-path="url(#p94d9b85a06)" style="fill: none; stroke: #ff0000; stroke-opacity: 0.5; stroke-width: 1.5"/>
    <path d="M 235.908 460.405 
L 235.908 445.868 
" clip-path="url(#p94d9b85a06)" style="fill: none; stroke: #ff0000; stroke-opacity: 0.5; stroke-width: 1.5"/>
    <path d="M 239.114 470.036 
L 239.114 456.226 
" clip-path="url(#p94d9b85a06)" style="fill: none; stroke: #ff0000; stroke-opacity: 0.5; stroke-width: 1.5"/>
    <path d="M 242.319 469.793 
L 242.319 456.468 
" clip-path="url(#p94d9b85a06)" style="fill: none; stroke: #ff0000; stroke-opacity: 0.5; stroke-width: 1.5"/>
    <path d="M 245.525 466.886 
L 245.525 453.561 
" clip-path="url(#p94d9b85a06)" style="fill: none; stroke: #ff0000; stroke-opacity: 0.5; stroke-width: 1.5"/>
    <path d="M 248.730 451.683 
L 248.730 438.358 
" clip-path="url(#p94d9b85a06)" style="fill: none; stroke: #ff0000; stroke-opacity: 0.5; stroke-width: 1.5"/>
    <path d="M 251.935 467.128 
L 251.935 454.167 
" clip-path="url(#p94d9b85a06)" style="fill: none; stroke: #ff0000; stroke-opacity: 0.5; stroke-width: 1.5"/>
    <path d="M 255.141 465.432 
L 255.141 453.319 
" clip-path="url(#p94d9b85a06)" style="fill: none; stroke: #ff0000; stroke-opacity: 0.5; stroke-width: 1.5"/>
    <path d="M 258.346 458.528 
L 258.346 446.050 
" clip-path="url(#p94d9b85a06)" style="fill: none; stroke: #ff0000; stroke-opacity: 0.5; stroke-width: 1.5"/>
    <path d="M 261.552 453.985 
L 261.552 442.234 
" clip-path="url(#p94d9b85a06)" style="fill: none; stroke: #ff0000; stroke-opacity: 0.5; stroke-width: 1.5"/>
    <path d="M 264.757 457.922 
L 264.757 445.808 
" clip-path="url(#p94d9b85a06)" style="fill: none; stroke: #ff0000; stroke-opacity: 0.5; stroke-width: 1.5"/>
    <path d="M 267.963 463.615 
L 267.963 451.501 
" clip-path="url(#p94d9b85a06)" style="fill: none; stroke: #ff0000; stroke-opacity: 0.5; stroke-width: 1.5"/>
    <path d="M 271.168 465.614 
L 271.168 453.985 
" clip-path="url(#p94d9b85a06)" style="fill: none; stroke: #ff0000; stroke-opacity: 0.5; stroke-width: 1.5"/>
    <path d="M 274.373 470.460 
L 274.373 459.194 
" clip-path="url(#p94d9b85a06)" style="fill: none; stroke: #ff0000; stroke-opacity: 0.5; stroke-width: 1.5"/>
    <path d="M 277.579 467.673 
L 277.579 456.044 
" clip-path="url(#p94d9b85a06)" style="fill: none; stroke: #ff0000; stroke-opacity: 0.5; stroke-width: 1.5"/>
    <path d="M 280.784 462.101 
L 280.784 449.987 
" clip-path="url(#p94d9b85a06)" style="fill: none; stroke: #ff0000; stroke-opacity: 0.5; stroke-width: 1.5"/>
    <path d="M 283.990 466.462 
L 283.990 453.985 
" clip-path="url(#p94d9b85a06)" style="fill: none; stroke: #ff0000; stroke-opacity: 0.5; stroke-width: 1.5"/>
    <path d="M 287.195 467.310 
L 287.195 454.833 
" clip-path="url(#p94d9b85a06)" style="fill: none; stroke: #ff0000; stroke-opacity: 0.5; stroke-width: 1.5"/>
    <path d="M 290.400 469.188 
L 290.400 456.226 
" clip-path="url(#p94d9b85a06)" style="fill: none; stroke: #ff0000; stroke-opacity: 0.5; stroke-width: 1.5"/>
    <path d="M 293.606 457.316 
L 293.606 443.385 
" clip-path="url(#p94d9b85a06)" style="fill: none; stroke: #ff0000; stroke-opacity: 0.5; stroke-width: 1.5"/>
    <path d="M 296.811 467.552 
L 296.811 454.590 
" clip-path="url(#p94d9b85a06)" style="fill: none; stroke: #ff0000; stroke-opacity: 0.5; stroke-width: 1.5"/>
    <path d="M 300.017 466.038 
L 300.017 451.017 
" clip-path="url(#p94d9b85a06)" style="fill: none; stroke: #ff0000; stroke-opacity: 0.5; stroke-width: 1.5"/>
    <path d="M 303.222 462.707 
L 303.222 447.686 
" clip-path="url(#p94d9b85a06)" style="fill: none; stroke: #ff0000; stroke-opacity: 0.5; stroke-width: 1.5"/>
    <path d="M 306.428 454.227 
L 306.428 437.510 
" clip-path="url(#p94d9b85a06)" style="fill: none; stroke: #ff0000; stroke-opacity: 0.5; stroke-width: 1.5"/>
    <path d="M 309.633 479.848 
L 309.633 463.615 
" clip-path="url(#p94d9b85a06)" style="fill: none; stroke: #ff0000; stroke-opacity: 0.5; stroke-width: 1.5"/>
    <path d="M 312.838 454.893 
L 312.838 438.055 
" clip-path="url(#p94d9b85a06)" style="fill: none; stroke: #ff0000; stroke-opacity: 0.5; stroke-width: 1.5"/>
    <path d="M 316.044 459.375 
L 316.044 441.810 
" clip-path="url(#p94d9b85a06)" style="fill: none; stroke: #ff0000; stroke-opacity: 0.5; stroke-width: 1.5"/>
   </g>
   <g id="line2d_60">
    <g clip-path="url(#p94d9b85a06)">
     <path d="M -3 0 L 3 0 M 0 3 L 0 -3" transform="translate(216.676 452.895)" style="fill: #ff0000; fill-opacity: 0.5; stroke: #ff0000; stroke-opacity: 0.5"/>
     <path d="M -3 0 L 3 0 M 0 3 L 0 -3" transform="translate(219.881 471.913)" style="fill: #ff0000; fill-opacity: 0.5; stroke: #ff0000; stroke-opacity: 0.5"/>
     <path d="M -3 0 L 3 0 M 0 3 L 0 -3" transform="translate(223.087 461.495)" style="fill: #ff0000; fill-opacity: 0.5; stroke: #ff0000; stroke-opacity: 0.5"/>
     <path d="M -3 0 L 3 0 M 0 3 L 0 -3" transform="translate(226.292 464.827)" style="fill: #ff0000; fill-opacity: 0.5; stroke: #ff0000; stroke-opacity: 0.5"/>
     <path d="M -3 0 L 3 0 M 0 3 L 0 -3" transform="translate(229.497 446.414)" style="fill: #ff0000; fill-opacity: 0.5; stroke: #ff0000; stroke-opacity: 0.5"/>
     <path d="M -3 0 L 3 0 M 0 3 L 0 -3" transform="translate(232.703 455.196)" style="fill: #ff0000; fill-opacity: 0.5; stroke: #ff0000; stroke-opacity: 0.5"/>
     <path d="M -3 0 L 3 0 M 0 3 L 0 -3" transform="translate(235.908 453.137)" style="fill: #ff0000; fill-opacity: 0.5; stroke: #ff0000; stroke-opacity: 0.5"/>
     <path d="M -3 0 L 3 0 M 0 3 L 0 -3" transform="translate(239.114 463.131)" style="fill: #ff0000; fill-opacity: 0.5; stroke: #ff0000; stroke-opacity: 0.5"/>
     <path d="M -3 0 L 3 0 M 0 3 L 0 -3" transform="translate(242.319 463.131)" style="fill: #ff0000; fill-opacity: 0.5; stroke: #ff0000; stroke-opacity: 0.5"/>
     <path d="M -3 0 L 3 0 M 0 3 L 0 -3" transform="translate(245.525 460.223)" style="fill: #ff0000; fill-opacity: 0.5; stroke: #ff0000; stroke-opacity: 0.5"/>
     <path d="M -3 0 L 3 0 M 0 3 L 0 -3" transform="translate(248.730 445.021)" style="fill: #ff0000; fill-opacity: 0.5; stroke: #ff0000; stroke-opacity: 0.5"/>
     <path d="M -3 0 L 3 0 M 0 3 L 0 -3" transform="translate(251.935 460.647)" style="fill: #ff0000; fill-opacity: 0.5; stroke: #ff0000; stroke-opacity: 0.5"/>
     <path d="M -3 0 L 3 0 M 0 3 L 0 -3" transform="translate(255.141 459.375)" style="fill: #ff0000; fill-opacity: 0.5; stroke: #ff0000; stroke-opacity: 0.5"/>
     <path d="M -3 0 L 3 0 M 0 3 L 0 -3" transform="translate(258.346 452.289)" style="fill: #ff0000; fill-opacity: 0.5; stroke: #ff0000; stroke-opacity: 0.5"/>
     <path d="M -3 0 L 3 0 M 0 3 L 0 -3" transform="translate(261.552 448.110)" style="fill: #ff0000; fill-opacity: 0.5; stroke: #ff0000; stroke-opacity: 0.5"/>
     <path d="M -3 0 L 3 0 M 0 3 L 0 -3" transform="translate(264.757 451.865)" style="fill: #ff0000; fill-opacity: 0.5; stroke: #ff0000; stroke-opacity: 0.5"/>
     <path d="M -3 0 L 3 0 M 0 3 L 0 -3" transform="translate(267.963 457.558)" style="fill: #ff0000; fill-opacity: 0.5; stroke: #ff0000; stroke-opacity: 0.5"/>
     <path d="M -3 0 L 3 0 M 0 3 L 0 -3" transform="translate(271.168 459.799)" style="fill: #ff0000; fill-opacity: 0.5; stroke: #ff0000; stroke-opacity: 0.5"/>
     <path d="M -3 0 L 3 0 M 0 3 L 0 -3" transform="translate(274.373 464.827)" style="fill: #ff0000; fill-opacity: 0.5; stroke: #ff0000; stroke-opacity: 0.5"/>
     <path d="M -3 0 L 3 0 M 0 3 L 0 -3" transform="translate(277.579 461.859)" style="fill: #ff0000; fill-opacity: 0.5; stroke: #ff0000; stroke-opacity: 0.5"/>
     <path d="M -3 0 L 3 0 M 0 3 L 0 -3" transform="translate(280.784 456.044)" style="fill: #ff0000; fill-opacity: 0.5; stroke: #ff0000; stroke-opacity: 0.5"/>
     <path d="M -3 0 L 3 0 M 0 3 L 0 -3" transform="translate(283.990 460.223)" style="fill: #ff0000; fill-opacity: 0.5; stroke: #ff0000; stroke-opacity: 0.5"/>
     <path d="M -3 0 L 3 0 M 0 3 L 0 -3" transform="translate(287.195 461.071)" style="fill: #ff0000; fill-opacity: 0.5; stroke: #ff0000; stroke-opacity: 0.5"/>
     <path d="M -3 0 L 3 0 M 0 3 L 0 -3" transform="translate(290.400 462.707)" style="fill: #ff0000; fill-opacity: 0.5; stroke: #ff0000; stroke-opacity: 0.5"/>
     <path d="M -3 0 L 3 0 M 0 3 L 0 -3" transform="translate(293.606 450.351)" style="fill: #ff0000; fill-opacity: 0.5; stroke: #ff0000; stroke-opacity: 0.5"/>
     <path d="M -3 0 L 3 0 M 0 3 L 0 -3" transform="translate(296.811 461.071)" style="fill: #ff0000; fill-opacity: 0.5; stroke: #ff0000; stroke-opacity: 0.5"/>
     <path d="M -3 0 L 3 0 M 0 3 L 0 -3" transform="translate(300.017 458.528)" style="fill: #ff0000; fill-opacity: 0.5; stroke: #ff0000; stroke-opacity: 0.5"/>
     <path d="M -3 0 L 3 0 M 0 3 L 0 -3" transform="translate(303.222 455.196)" style="fill: #ff0000; fill-opacity: 0.5; stroke: #ff0000; stroke-opacity: 0.5"/>
     <path d="M -3 0 L 3 0 M 0 3 L 0 -3" transform="translate(306.428 445.868)" style="fill: #ff0000; fill-opacity: 0.5; stroke: #ff0000; stroke-opacity: 0.5"/>
     <path d="M -3 0 L 3 0 M 0 3 L 0 -3" transform="translate(309.633 471.732)" style="fill: #ff0000; fill-opacity: 0.5; stroke: #ff0000; stroke-opacity: 0.5"/>
     <path d="M -3 0 L 3 0 M 0 3 L 0 -3" transform="translate(312.838 446.474)" style="fill: #ff0000; fill-opacity: 0.5; stroke: #ff0000; stroke-opacity: 0.5"/>
     <path d="M -3 0 L 3 0 M 0 3 L 0 -3" transform="translate(316.044 450.593)" style="fill: #ff0000; fill-opacity: 0.5; stroke: #ff0000; stroke-opacity: 0.5"/>
    </g>
   </g>
   <g id="patch_18">
    <path d="M 112.5 554.47 
L 112.5 336.42 
" style="fill: none; stroke: #000000; stroke-width: 0.8; stroke-linejoin: miter; stroke-linecap: square"/>
   </g>
   <g id="patch_19">
    <path d="M 317.647 554.47 
L 317.647 336.42 
" style="fill: none; stroke: #000000; stroke-width: 0.8; stroke-linejoin: miter; stroke-linecap: square"/>
   </g>
   <g id="patch_20">
    <path d="M 112.5 554.47 
L 317.647 554.47 
" style="fill: none; stroke: #000000; stroke-width: 0.8; stroke-linejoin: miter; stroke-linecap: square"/>
   </g>
   <g id="patch_21">
    <path d="M 112.5 336.42 
L 317.647 336.42 
" style="fill: none; stroke: #000000; stroke-width: 0.8; stroke-linejoin: miter; stroke-linecap: square"/>
   </g>
   <g id="text_56">
    <text style="font-size: 12px; font-family: 'DejaVu Sans', sans-serif; text-anchor: middle" x="215.073" y="330.42" transform="translate(215.074 0.8) scale(0.965 1) translate(-215.074 0)">Glitch 2 + 12 days, 28107 photons</text>
   </g>
  </g>
  <g id="axes_5">
   <g id="patch_22">
    <path d="M 358.676 554.47 
L 563.823 554.47 
L 563.823 336.42 
L 358.676 336.42 
z
" style="fill: #ffffff"/>
   </g>
   <g id="matplotlib.axis_9">
    <g id="xtick_21">
     <g id="line2d_61">
      <g>
       <path d="M 0 0 L 0 3.5" transform="translate(358.676 554.47)" style="stroke: #000000; stroke-width: 0.8"/>
      </g>
     </g>
     <g id="text_57">
      <text style="font-size: 9.7px; font-family: 'DejaVu Sans', sans-serif; text-anchor: middle" x="358.676" y="569.068" transform="rotate(-0 358.676 569.068)">0.0</text>
     </g>
    </g>
    <g id="xtick_22">
     <g id="line2d_62">
      <g>
       <path d="M 0 0 L 0 3.5" transform="translate(409.963 554.47)" style="stroke: #000000; stroke-width: 0.8"/>
      </g>
     </g>
     <g id="text_58">
      <text style="font-size: 9.7px; font-family: 'DejaVu Sans', sans-serif; text-anchor: middle" x="409.963" y="569.068" transform="rotate(-0 409.963 569.068)">0.5</text>
     </g>
    </g>
    <g id="xtick_23">
     <g id="line2d_63">
      <g>
       <path d="M 0 0 L 0 3.5" transform="translate(461.25 554.47)" style="stroke: #000000; stroke-width: 0.8"/>
      </g>
     </g>
     <g id="text_59">
      <text style="font-size: 9.7px; font-family: 'DejaVu Sans', sans-serif; text-anchor: middle" x="461.25" y="569.068" transform="rotate(-0 461.25 569.068)">1.0</text>
     </g>
    </g>
    <g id="xtick_24">
     <g id="line2d_64">
      <g>
       <path d="M 0 0 L 0 3.5" transform="translate(512.536 554.47)" style="stroke: #000000; stroke-width: 0.8"/>
      </g>
     </g>
     <g id="text_60">
      <text style="font-size: 9.7px; font-family: 'DejaVu Sans', sans-serif; text-anchor: middle" x="512.536" y="569.068" transform="rotate(-0 512.536 569.068)">1.5</text>
     </g>
    </g>
    <g id="xtick_25">
     <g id="line2d_65">
      <g>
       <path d="M 0 0 L 0 3.5" transform="translate(563.823 554.47)" style="stroke: #000000; stroke-width: 0.8"/>
      </g>
     </g>
     <g id="text_61">
      <text style="font-size: 9.7px; font-family: 'DejaVu Sans', sans-serif; text-anchor: middle" x="563.823" y="569.068" transform="rotate(-0 563.823 569.068)">2.0</text>
     </g>
    </g>
   </g>
   <g id="matplotlib.axis_10">
    <g id="ytick_33">
     <g id="line2d_66">
      <g>
       <path d="M 0 0 L -3.5 0" transform="translate(358.676 548.413)" style="stroke: #000000; stroke-width: 0.8"/>
      </g>
     </g>
     <g id="text_62">
      <text style="font-size: 9.7px; font-family: 'DejaVu Sans', sans-serif; text-anchor: end" x="351.676" y="552.212" transform="rotate(-0 351.676 552.212)">−1.5</text>
     </g>
    </g>
    <g id="ytick_34">
     <g id="line2d_67">
      <g>
       <path d="M 0 0 L -3.5 0" transform="translate(358.676 518.128)" style="stroke: #000000; stroke-width: 0.8"/>
      </g>
     </g>
     <g id="text_63">
      <text style="font-size: 9.7px; font-family: 'DejaVu Sans', sans-serif; text-anchor: end" x="351.676" y="521.927" transform="rotate(-0 351.676 521.927)">−1.0</text>
     </g>
    </g>
    <g id="ytick_35">
     <g id="line2d_68">
      <g>
       <path d="M 0 0 L -3.5 0" transform="translate(358.676 487.843)" style="stroke: #000000; stroke-width: 0.8"/>
      </g>
     </g>
     <g id="text_64">
      <text style="font-size: 9.7px; font-family: 'DejaVu Sans', sans-serif; text-anchor: end" x="351.676" y="491.642" transform="rotate(-0 351.676 491.642)">−0.5</text>
     </g>
    </g>
    <g id="ytick_36">
     <g id="line2d_69">
      <g>
       <path d="M 0 0 L -3.5 0" transform="translate(358.676 457.558)" style="stroke: #000000; stroke-width: 0.8"/>
      </g>
     </g>
     <g id="text_65">
      <text style="font-size: 9.7px; font-family: 'DejaVu Sans', sans-serif; text-anchor: end" x="351.676" y="461.358" transform="rotate(-0 351.676 461.358)">0.0</text>
     </g>
    </g>
    <g id="ytick_37">
     <g id="line2d_70">
      <g>
       <path d="M 0 0 L -3.5 0" transform="translate(358.676 427.274)" style="stroke: #000000; stroke-width: 0.8"/>
      </g>
     </g>
     <g id="text_66">
      <text style="font-size: 9.7px; font-family: 'DejaVu Sans', sans-serif; text-anchor: end" x="351.676" y="431.073" transform="rotate(-0 351.676 431.073)">0.5</text>
     </g>
    </g>
    <g id="ytick_38">
     <g id="line2d_71">
      <g>
       <path d="M 0 0 L -3.5 0" transform="translate(358.676 396.989)" style="stroke: #000000; stroke-width: 0.8"/>
      </g>
     </g>
     <g id="text_67">
      <text style="font-size: 9.7px; font-family: 'DejaVu Sans', sans-serif; text-anchor: end" x="351.676" y="400.788" transform="rotate(-0 351.676 400.788)">1.0</text>
     </g>
    </g>
    <g id="ytick_39">
     <g id="line2d_72">
      <g>
       <path d="M 0 0 L -3.5 0" transform="translate(358.676 366.704)" style="stroke: #000000; stroke-width: 0.8"/>
      </g>
     </g>
     <g id="text_68">
      <text style="font-size: 9.7px; font-family: 'DejaVu Sans', sans-serif; text-anchor: end" x="351.676" y="370.503" transform="rotate(-0 351.676 370.503)">1.5</text>
     </g>
    </g>
    <g id="ytick_40">
     <g id="line2d_73">
      <g>
       <path d="M 0 0 L -3.5 0" transform="translate(358.676 336.42)" style="stroke: #000000; stroke-width: 0.8"/>
      </g>
     </g>
     <g id="text_69">
      <text style="font-size: 9.7px; font-family: 'DejaVu Sans', sans-serif; text-anchor: end" x="351.676" y="340.219" transform="rotate(-0 351.676 340.219)">2.0</text>
     </g>
    </g>
   </g>
   <g id="line2d_74">
    <path d="M 358.676 358.527 
L 361.985 358.527 
L 361.985 362.404 
L 365.294 362.404 
L 365.294 375.729 
L 368.602 375.729 
L 368.602 401.289 
L 371.911 401.289 
L 371.911 419.460 
L 375.220 419.460 
L 375.220 442.537 
L 378.529 442.537 
L 378.529 457.861 
L 381.838 457.861 
L 381.838 474.578 
L 385.147 474.578 
L 385.147 471.550 
L 388.455 471.550 
L 388.455 494.263 
L 391.764 494.263 
L 391.764 499.594 
L 395.073 499.594 
L 395.073 502.622 
L 398.382 502.622 
L 398.382 520.793 
L 401.691 520.793 
L 401.691 525.820 
L 405 525.820 
L 405 507.952 
L 408.308 507.952 
L 408.308 519.642 
L 411.617 519.642 
L 411.617 521.641 
L 414.926 521.641 
L 414.926 534.663 
L 418.235 534.663 
L 418.235 516.311 
L 421.544 516.311 
L 421.544 521.338 
L 424.852 521.338 
L 424.852 514.615 
L 428.161 514.615 
L 428.161 508.800 
L 431.470 508.800 
L 431.470 494.627 
L 434.779 494.627 
L 434.779 475.729 
L 438.088 475.729 
L 438.088 452.349 
L 441.397 452.349 
L 441.397 424.669 
L 444.705 424.669 
L 444.705 409.466 
L 448.014 409.466 
L 448.014 390.447 
L 451.323 390.447 
L 451.323 376.092 
L 454.632 376.092 
L 454.632 360.223 
L 457.941 360.223 
L 457.941 342.355 
L 461.25 342.355 
L 461.25 358.527 
L 464.558 358.527 
L 464.558 362.404 
L 467.867 362.404 
L 467.867 375.729 
L 471.176 375.729 
L 471.176 401.289 
L 474.485 401.289 
L 474.485 419.460 
L 477.794 419.460 
L 477.794 442.537 
L 481.102 442.537 
L 481.102 457.861 
L 484.411 457.861 
L 484.411 474.578 
L 487.720 474.578 
L 487.720 471.550 
L 491.029 471.550 
L 491.029 494.263 
L 494.338 494.263 
L 494.338 499.594 
L 497.647 499.594 
L 497.647 502.622 
L 500.955 502.622 
L 500.955 520.793 
L 504.264 520.793 
L 504.264 525.820 
L 507.573 525.820 
L 507.573 507.952 
L 510.882 507.952 
L 510.882 519.642 
L 514.191 519.642 
L 514.191 521.641 
L 517.5 521.641 
L 517.5 534.663 
L 520.808 534.663 
L 520.808 516.311 
L 524.117 516.311 
L 524.117 521.338 
L 527.426 521.338 
L 527.426 514.615 
L 530.735 514.615 
L 530.735 508.800 
L 534.044 508.800 
L 534.044 494.627 
L 537.352 494.627 
L 537.352 475.729 
L 540.661 475.729 
L 540.661 452.349 
L 543.970 452.349 
L 543.970 424.669 
L 547.279 424.669 
L 547.279 409.466 
L 550.588 409.466 
L 550.588 390.447 
L 553.897 390.447 
L 553.897 376.092 
L 557.205 376.092 
L 557.205 360.223 
L 560.514 360.223 
L 560.514 342.355 
L 563.823 342.355 
L 563.823 342.355 
" clip-path="url(#p2fe0086be9)" style="fill: none; stroke: #1f77b4; stroke-width: 1.5; stroke-linecap: square"/>
   </g>
   <g id="LineCollection_5">
    <path d="M 462.852 464.827 
L 462.852 450.290 
" clip-path="url(#p2fe0086be9)" style="fill: none; stroke: #ff0000; stroke-opacity: 0.5; stroke-width: 1.5"/>
    <path d="M 466.058 459.799 
L 466.058 445.263 
" clip-path="url(#p2fe0086be9)" style="fill: none; stroke: #ff0000; stroke-opacity: 0.5; stroke-width: 1.5"/>
    <path d="M 469.263 460.405 
L 469.263 445.868 
" clip-path="url(#p2fe0086be9)" style="fill: none; stroke: #ff0000; stroke-opacity: 0.5; stroke-width: 1.5"/>
    <path d="M 472.468 470.278 
L 472.468 456.468 
" clip-path="url(#p2fe0086be9)" style="fill: none; stroke: #ff0000; stroke-opacity: 0.5; stroke-width: 1.5"/>
    <path d="M 475.674 467.310 
L 475.674 453.500 
" clip-path="url(#p2fe0086be9)" style="fill: none; stroke: #ff0000; stroke-opacity: 0.5; stroke-width: 1.5"/>
    <path d="M 478.879 468.521 
L 478.879 455.196 
" clip-path="url(#p2fe0086be9)" style="fill: none; stroke: #ff0000; stroke-opacity: 0.5; stroke-width: 1.5"/>
    <path d="M 482.085 478.394 
L 482.085 465.432 
" clip-path="url(#p2fe0086be9)" style="fill: none; stroke: #ff0000; stroke-opacity: 0.5; stroke-width: 1.5"/>
    <path d="M 485.290 459.375 
L 485.290 446.898 
" clip-path="url(#p2fe0086be9)" style="fill: none; stroke: #ff0000; stroke-opacity: 0.5; stroke-width: 1.5"/>
    <path d="M 488.496 456.832 
L 488.496 444.354 
" clip-path="url(#p2fe0086be9)" style="fill: none; stroke: #ff0000; stroke-opacity: 0.5; stroke-width: 1.5"/>
    <path d="M 491.701 455.620 
L 491.701 443.143 
" clip-path="url(#p2fe0086be9)" style="fill: none; stroke: #ff0000; stroke-opacity: 0.5; stroke-width: 1.5"/>
    <path d="M 494.906 467.673 
L 494.906 456.044 
" clip-path="url(#p2fe0086be9)" style="fill: none; stroke: #ff0000; stroke-opacity: 0.5; stroke-width: 1.5"/>
    <path d="M 498.112 452.289 
L 498.112 440.660 
" clip-path="url(#p2fe0086be9)" style="fill: none; stroke: #ff0000; stroke-opacity: 0.5; stroke-width: 1.5"/>
    <path d="M 501.317 465.675 
L 501.317 454.409 
" clip-path="url(#p2fe0086be9)" style="fill: none; stroke: #ff0000; stroke-opacity: 0.5; stroke-width: 1.5"/>
    <path d="M 504.523 473.609 
L 504.523 462.707 
" clip-path="url(#p2fe0086be9)" style="fill: none; stroke: #ff0000; stroke-opacity: 0.5; stroke-width: 1.5"/>
    <path d="M 507.728 459.557 
L 507.728 448.291 
" clip-path="url(#p2fe0086be9)" style="fill: none; stroke: #ff0000; stroke-opacity: 0.5; stroke-width: 1.5"/>
    <path d="M 510.934 451.501 
L 510.934 440.236 
" clip-path="url(#p2fe0086be9)" style="fill: none; stroke: #ff0000; stroke-opacity: 0.5; stroke-width: 1.5"/>
    <path d="M 514.139 464.827 
L 514.139 453.924 
" clip-path="url(#p2fe0086be9)" style="fill: none; stroke: #ff0000; stroke-opacity: 0.5; stroke-width: 1.5"/>
    <path d="M 517.344 471.489 
L 517.344 460.587 
" clip-path="url(#p2fe0086be9)" style="fill: none; stroke: #ff0000; stroke-opacity: 0.5; stroke-width: 1.5"/>
    <path d="M 520.550 469.551 
L 520.550 459.254 
" clip-path="url(#p2fe0086be9)" style="fill: none; stroke: #ff0000; stroke-opacity: 0.5; stroke-width: 1.5"/>
    <path d="M 523.755 449.624 
L 523.755 438.237 
" clip-path="url(#p2fe0086be9)" style="fill: none; stroke: #ff0000; stroke-opacity: 0.5; stroke-width: 1.5"/>
    <path d="M 526.961 468.400 
L 526.961 457.377 
" clip-path="url(#p2fe0086be9)" style="fill: none; stroke: #ff0000; stroke-opacity: 0.5; stroke-width: 1.5"/>
    <path d="M 530.166 459.981 
L 530.166 448.715 
" clip-path="url(#p2fe0086be9)" style="fill: none; stroke: #ff0000; stroke-opacity: 0.5; stroke-width: 1.5"/>
    <path d="M 533.372 468.764 
L 533.372 457.498 
" clip-path="url(#p2fe0086be9)" style="fill: none; stroke: #ff0000; stroke-opacity: 0.5; stroke-width: 1.5"/>
    <path d="M 536.577 461.435 
L 536.577 449.806 
" clip-path="url(#p2fe0086be9)" style="fill: none; stroke: #ff0000; stroke-opacity: 0.5; stroke-width: 1.5"/>
    <path d="M 539.782 463.373 
L 539.782 451.259 
" clip-path="url(#p2fe0086be9)" style="fill: none; stroke: #ff0000; stroke-opacity: 0.5; stroke-width: 1.5"/>
    <path d="M 542.988 463.373 
L 542.988 452.107 
" clip-path="url(#p2fe0086be9)" style="fill: none; stroke: #ff0000; stroke-opacity: 0.5; stroke-width: 1.5"/>
    <path d="M 546.193 460.587 
L 546.193 448.110 
" clip-path="url(#p2fe0086be9)" style="fill: none; stroke: #ff0000; stroke-opacity: 0.5; stroke-width: 1.5"/>
    <path d="M 549.399 467.552 
L 549.399 453.743 
" clip-path="url(#p2fe0086be9)" style="fill: none; stroke: #ff0000; stroke-opacity: 0.5; stroke-width: 1.5"/>
    <path d="M 552.604 463.797 
L 552.604 449.987 
" clip-path="url(#p2fe0086be9)" style="fill: none; stroke: #ff0000; stroke-opacity: 0.5; stroke-width: 1.5"/>
    <path d="M 555.809 471.671 
L 555.809 457.134 
" clip-path="url(#p2fe0086be9)" style="fill: none; stroke: #ff0000; stroke-opacity: 0.5; stroke-width: 1.5"/>
    <path d="M 559.015 467.734 
L 559.015 452.713 
" clip-path="url(#p2fe0086be9)" style="fill: none; stroke: #ff0000; stroke-opacity: 0.5; stroke-width: 1.5"/>
    <path d="M 562.220 450.593 
L 562.220 435.572 
" clip-path="url(#p2fe0086be9)" style="fill: none; stroke: #ff0000; stroke-opacity: 0.5; stroke-width: 1.5"/>
   </g>
   <g id="line2d_75">
    <g clip-path="url(#p2fe0086be9)">
     <path d="M -3 0 L 3 0 M 0 3 L 0 -3" transform="translate(462.852 457.558)" style="fill: #ff0000; fill-opacity: 0.5; stroke: #ff0000; stroke-opacity: 0.5"/>
     <path d="M -3 0 L 3 0 M 0 3 L 0 -3" transform="translate(466.058 452.531)" style="fill: #ff0000; fill-opacity: 0.5; stroke: #ff0000; stroke-opacity: 0.5"/>
     <path d="M -3 0 L 3 0 M 0 3 L 0 -3" transform="translate(469.263 453.137)" style="fill: #ff0000; fill-opacity: 0.5; stroke: #ff0000; stroke-opacity: 0.5"/>
     <path d="M -3 0 L 3 0 M 0 3 L 0 -3" transform="translate(472.468 463.373)" style="fill: #ff0000; fill-opacity: 0.5; stroke: #ff0000; stroke-opacity: 0.5"/>
     <path d="M -3 0 L 3 0 M 0 3 L 0 -3" transform="translate(475.674 460.405)" style="fill: #ff0000; fill-opacity: 0.5; stroke: #ff0000; stroke-opacity: 0.5"/>
     <path d="M -3 0 L 3 0 M 0 3 L 0 -3" transform="translate(478.879 461.859)" style="fill: #ff0000; fill-opacity: 0.5; stroke: #ff0000; stroke-opacity: 0.5"/>
     <path d="M -3 0 L 3 0 M 0 3 L 0 -3" transform="translate(482.085 471.913)" style="fill: #ff0000; fill-opacity: 0.5; stroke: #ff0000; stroke-opacity: 0.5"/>
     <path d="M -3 0 L 3 0 M 0 3 L 0 -3" transform="translate(485.290 453.137)" style="fill: #ff0000; fill-opacity: 0.5; stroke: #ff0000; stroke-opacity: 0.5"/>
     <path d="M -3 0 L 3 0 M 0 3 L 0 -3" transform="translate(488.496 450.593)" style="fill: #ff0000; fill-opacity: 0.5; stroke: #ff0000; stroke-opacity: 0.5"/>
     <path d="M -3 0 L 3 0 M 0 3 L 0 -3" transform="translate(491.701 449.382)" style="fill: #ff0000; fill-opacity: 0.5; stroke: #ff0000; stroke-opacity: 0.5"/>
     <path d="M -3 0 L 3 0 M 0 3 L 0 -3" transform="translate(494.906 461.859)" style="fill: #ff0000; fill-opacity: 0.5; stroke: #ff0000; stroke-opacity: 0.5"/>
     <path d="M -3 0 L 3 0 M 0 3 L 0 -3" transform="translate(498.112 446.474)" style="fill: #ff0000; fill-opacity: 0.5; stroke: #ff0000; stroke-opacity: 0.5"/>
     <path d="M -3 0 L 3 0 M 0 3 L 0 -3" transform="translate(501.317 460.042)" style="fill: #ff0000; fill-opacity: 0.5; stroke: #ff0000; stroke-opacity: 0.5"/>
     <path d="M -3 0 L 3 0 M 0 3 L 0 -3" transform="translate(504.523 468.158)" style="fill: #ff0000; fill-opacity: 0.5; stroke: #ff0000; stroke-opacity: 0.5"/>
     <path d="M -3 0 L 3 0 M 0 3 L 0 -3" transform="translate(507.728 453.924)" style="fill: #ff0000; fill-opacity: 0.5; stroke: #ff0000; stroke-opacity: 0.5"/>
     <path d="M -3 0 L 3 0 M 0 3 L 0 -3" transform="translate(510.934 445.868)" style="fill: #ff0000; fill-opacity: 0.5; stroke: #ff0000; stroke-opacity: 0.5"/>
     <path d="M -3 0 L 3 0 M 0 3 L 0 -3" transform="translate(514.139 459.375)" style="fill: #ff0000; fill-opacity: 0.5; stroke: #ff0000; stroke-opacity: 0.5"/>
     <path d="M -3 0 L 3 0 M 0 3 L 0 -3" transform="translate(517.344 466.038)" style="fill: #ff0000; fill-opacity: 0.5; stroke: #ff0000; stroke-opacity: 0.5"/>
     <path d="M -3 0 L 3 0 M 0 3 L 0 -3" transform="translate(520.550 464.403)" style="fill: #ff0000; fill-opacity: 0.5; stroke: #ff0000; stroke-opacity: 0.5"/>
     <path d="M -3 0 L 3 0 M 0 3 L 0 -3" transform="translate(523.755 443.930)" style="fill: #ff0000; fill-opacity: 0.5; stroke: #ff0000; stroke-opacity: 0.5"/>
     <path d="M -3 0 L 3 0 M 0 3 L 0 -3" transform="translate(526.961 462.889)" style="fill: #ff0000; fill-opacity: 0.5; stroke: #ff0000; stroke-opacity: 0.5"/>
     <path d="M -3 0 L 3 0 M 0 3 L 0 -3" transform="translate(530.166 454.348)" style="fill: #ff0000; fill-opacity: 0.5; stroke: #ff0000; stroke-opacity: 0.5"/>
     <path d="M -3 0 L 3 0 M 0 3 L 0 -3" transform="translate(533.372 463.131)" style="fill: #ff0000; fill-opacity: 0.5; stroke: #ff0000; stroke-opacity: 0.5"/>
     <path d="M -3 0 L 3 0 M 0 3 L 0 -3" transform="translate(536.577 455.620)" style="fill: #ff0000; fill-opacity: 0.5; stroke: #ff0000; stroke-opacity: 0.5"/>
     <path d="M -3 0 L 3 0 M 0 3 L 0 -3" transform="translate(539.782 457.316)" style="fill: #ff0000; fill-opacity: 0.5; stroke: #ff0000; stroke-opacity: 0.5"/>
     <path d="M -3 0 L 3 0 M 0 3 L 0 -3" transform="translate(542.988 457.740)" style="fill: #ff0000; fill-opacity: 0.5; stroke: #ff0000; stroke-opacity: 0.5"/>
     <path d="M -3 0 L 3 0 M 0 3 L 0 -3" transform="translate(546.193 454.348)" style="fill: #ff0000; fill-opacity: 0.5; stroke: #ff0000; stroke-opacity: 0.5"/>
     <path d="M -3 0 L 3 0 M 0 3 L 0 -3" transform="translate(549.399 460.647)" style="fill: #ff0000; fill-opacity: 0.5; stroke: #ff0000; stroke-opacity: 0.5"/>
     <path d="M -3 0 L 3 0 M 0 3 L 0 -3" transform="translate(552.604 456.892)" style="fill: #ff0000; fill-opacity: 0.5; stroke: #ff0000; stroke-opacity: 0.5"/>
     <path d="M -3 0 L 3 0 M 0 3 L 0 -3" transform="translate(555.809 464.403)" style="fill: #ff0000; fill-opacity: 0.5; stroke: #ff0000; stroke-opacity: 0.5"/>
     <path d="M -3 0 L 3 0 M 0 3 L 0 -3" transform="translate(559.015 460.223)" style="fill: #ff0000; fill-opacity: 0.5; stroke: #ff0000; stroke-opacity: 0.5"/>
     <path d="M -3 0 L 3 0 M 0 3 L 0 -3" transform="translate(562.220 443.082)" style="fill: #ff0000; fill-opacity: 0.5; stroke: #ff0000; stroke-opacity: 0.5"/>
    </g>
   </g>
   <g id="patch_23">
    <path d="M 358.676 554.47 
L 358.676 336.42 
" style="fill: none; stroke: #000000; stroke-width: 0.8; stroke-linejoin: miter; stroke-linecap: square"/>
   </g>
   <g id="patch_24">
    <path d="M 563.823 554.47 
L 563.823 336.42 
" style="fill: none; stroke: #000000; stroke-width: 0.8; stroke-linejoin: miter; stroke-linecap: square"/>
   </g>
   <g id="patch_25">
    <path d="M 358.676 554.47 
L 563.823 554.47 
" style="fill: none; stroke: #000000; stroke-width: 0.8; stroke-linejoin: miter; stroke-linecap: square"/>
   </g>
   <g id="patch_26">
    <path d="M 358.676 336.42 
L 563.823 336.42 
" style="fill: none; stroke: #000000; stroke-width: 0.8; stroke-linejoin: miter; stroke-linecap: square"/>
   </g>
   <g id="text_70">
    <text style="font-size: 12px; font-family: 'DejaVu Sans', sans-serif; text-anchor: middle" x="461.25" y="330.42" transform="translate(461.250 0.8) scale(0.965 1) translate(-461.250 0)">Pre-Glitch 3, 52845 photons</text>
   </g>
  </g>
  <g id="axes_6">
   <g id="patch_27">
    <path d="M 604.852 554.47 
L 810 554.47 
L 810 336.42 
L 604.852 336.42 
z
" style="fill: #ffffff"/>
   </g>
   <g id="matplotlib.axis_11">
    <g id="xtick_26">
     <g id="line2d_76">
      <g>
       <path d="M 0 0 L 0 3.5" transform="translate(604.852 554.47)" style="stroke: #000000; stroke-width: 0.8"/>
      </g>
     </g>
     <g id="text_71">
      <text style="font-size: 9.7px; font-family: 'DejaVu Sans', sans-serif; text-anchor: middle" x="604.852" y="569.068" transform="rotate(-0 604.852 569.068)">0.0</text>
     </g>
    </g>
    <g id="xtick_27">
     <g id="line2d_77">
      <g>
       <path d="M 0 0 L 0 3.5" transform="translate(656.139 554.47)" style="stroke: #000000; stroke-width: 0.8"/>
      </g>
     </g>
     <g id="text_72">
      <text style="font-size: 9.7px; font-family: 'DejaVu Sans', sans-serif; text-anchor: middle" x="656.139" y="569.068" transform="rotate(-0 656.139 569.068)">0.5</text>
     </g>
    </g>
    <g id="xtick_28">
     <g id="line2d_78">
      <g>
       <path d="M 0 0 L 0 3.5" transform="translate(707.426 554.47)" style="stroke: #000000; stroke-width: 0.8"/>
      </g>
     </g>
     <g id="text_73">
      <text style="font-size: 9.7px; font-family: 'DejaVu Sans', sans-serif; text-anchor: middle" x="707.426" y="569.068" transform="rotate(-0 707.426 569.068)">1.0</text>
     </g>
    </g>
    <g id="xtick_29">
     <g id="line2d_79">
      <g>
       <path d="M 0 0 L 0 3.5" transform="translate(758.713 554.47)" style="stroke: #000000; stroke-width: 0.8"/>
      </g>
     </g>
     <g id="text_74">
      <text style="font-size: 9.7px; font-family: 'DejaVu Sans', sans-serif; text-anchor: middle" x="758.713" y="569.068" transform="rotate(-0 758.713 569.068)">1.5</text>
     </g>
    </g>
    <g id="xtick_30">
     <g id="line2d_80">
      <g>
       <path d="M 0 0 L 0 3.5" transform="translate(810 554.47)" style="stroke: #000000; stroke-width: 0.8"/>
      </g>
     </g>
     <g id="text_75">
      <text style="font-size: 9.7px; font-family: 'DejaVu Sans', sans-serif; text-anchor: middle" x="810" y="569.068" transform="rotate(-0 810 569.068)">2.0</text>
     </g>
    </g>
   </g>
   <g id="matplotlib.axis_12">
    <g id="ytick_41">
     <g id="line2d_81">
      <g>
       <path d="M 0 0 L -3.5 0" transform="translate(604.852 548.413)" style="stroke: #000000; stroke-width: 0.8"/>
      </g>
     </g>
     <g id="text_76">
      <text style="font-size: 9.7px; font-family: 'DejaVu Sans', sans-serif; text-anchor: end" x="597.852" y="552.212" transform="rotate(-0 597.852 552.212)">−1.5</text>
     </g>
    </g>
    <g id="ytick_42">
     <g id="line2d_82">
      <g>
       <path d="M 0 0 L -3.5 0" transform="translate(604.852 518.128)" style="stroke: #000000; stroke-width: 0.8"/>
      </g>
     </g>
     <g id="text_77">
      <text style="font-size: 9.7px; font-family: 'DejaVu Sans', sans-serif; text-anchor: end" x="597.852" y="521.927" transform="rotate(-0 597.852 521.927)">−1.0</text>
     </g>
    </g>
    <g id="ytick_43">
     <g id="line2d_83">
      <g>
       <path d="M 0 0 L -3.5 0" transform="translate(604.852 487.843)" style="stroke: #000000; stroke-width: 0.8"/>
      </g>
     </g>
     <g id="text_78">
      <text style="font-size: 9.7px; font-family: 'DejaVu Sans', sans-serif; text-anchor: end" x="597.852" y="491.642" transform="rotate(-0 597.852 491.642)">−0.5</text>
     </g>
    </g>
    <g id="ytick_44">
     <g id="line2d_84">
      <g>
       <path d="M 0 0 L -3.5 0" transform="translate(604.852 457.558)" style="stroke: #000000; stroke-width: 0.8"/>
      </g>
     </g>
     <g id="text_79">
      <text style="font-size: 9.7px; font-family: 'DejaVu Sans', sans-serif; text-anchor: end" x="597.852" y="461.358" transform="rotate(-0 597.852 461.358)">0.0</text>
     </g>
    </g>
    <g id="ytick_45">
     <g id="line2d_85">
      <g>
       <path d="M 0 0 L -3.5 0" transform="translate(604.852 427.274)" style="stroke: #000000; stroke-width: 0.8"/>
      </g>
     </g>
     <g id="text_80">
      <text style="font-size: 9.7px; font-family: 'DejaVu Sans', sans-serif; text-anchor: end" x="597.852" y="431.073" transform="rotate(-0 597.852 431.073)">0.5</text>
     </g>
    </g>
    <g id="ytick_46">
     <g id="line2d_86">
      <g>
       <path d="M 0 0 L -3.5 0" transform="translate(604.852 396.989)" style="stroke: #000000; stroke-width: 0.8"/>
      </g>
     </g>
     <g id="text_81">
      <text style="font-size: 9.7px; font-family: 'DejaVu Sans', sans-serif; text-anchor: end" x="597.852" y="400.788" transform="rotate(-0 597.852 400.788)">1.0</text>
     </g>
    </g>
    <g id="ytick_47">
     <g id="line2d_87">
      <g>
       <path d="M 0 0 L -3.5 0" transform="translate(604.852 366.704)" style="stroke: #000000; stroke-width: 0.8"/>
      </g>
     </g>
     <g id="text_82">
      <text style="font-size: 9.7px; font-family: 'DejaVu Sans', sans-serif; text-anchor: end" x="597.852" y="370.503" transform="rotate(-0 597.852 370.503)">1.5</text>
     </g>
    </g>
    <g id="ytick_48">
     <g id="line2d_88">
      <g>
       <path d="M 0 0 L -3.5 0" transform="translate(604.852 336.42)" style="stroke: #000000; stroke-width: 0.8"/>
      </g>
     </g>
     <g id="text_83">
      <text style="font-size: 9.7px; font-family: 'DejaVu Sans', sans-serif; text-anchor: end" x="597.852" y="340.219" transform="rotate(-0 597.852 340.219)">2.0</text>
     </g>
    </g>
   </g>
   <g id="line2d_89">
    <path d="M 604.852 373.246 
L 608.161 373.246 
L 608.161 348.170 
L 611.470 348.170 
L 611.470 367.068 
L 614.779 367.068 
L 614.779 372.034 
L 618.088 372.034 
L 618.088 420.308 
L 621.397 420.308 
L 621.397 453.197 
L 624.705 453.197 
L 624.705 453.197 
L 628.014 453.197 
L 628.014 487.722 
L 631.323 487.722 
L 631.323 491.901 
L 634.632 491.901 
L 634.632 480.696 
L 637.941 480.696 
L 637.941 494.385 
L 641.25 494.385 
L 641.25 514.918 
L 644.558 514.918 
L 644.558 504.439 
L 647.867 504.439 
L 647.867 513.585 
L 651.176 513.585 
L 651.176 495.596 
L 654.485 495.596 
L 654.485 521.944 
L 657.794 521.944 
L 657.794 547.019 
L 661.102 547.019 
L 661.102 518.128 
L 664.411 518.128 
L 664.411 518.128 
L 667.720 518.128 
L 667.720 532.483 
L 671.029 532.483 
L 671.029 511.465 
L 674.338 511.465 
L 674.338 508.073 
L 677.647 508.073 
L 677.647 498.564 
L 680.955 498.564 
L 680.955 467.673 
L 684.264 467.673 
L 684.264 449.018 
L 687.573 449.018 
L 687.573 428.848 
L 690.882 428.848 
L 690.882 382.755 
L 694.191 382.755 
L 694.191 405.287 
L 697.5 405.287 
L 697.5 380.756 
L 700.808 380.756 
L 700.808 375.426 
L 704.117 375.426 
L 704.117 360.223 
L 707.426 360.223 
L 707.426 373.246 
L 710.735 373.246 
L 710.735 348.170 
L 714.044 348.170 
L 714.044 367.068 
L 717.352 367.068 
L 717.352 372.034 
L 720.661 372.034 
L 720.661 420.308 
L 723.970 420.308 
L 723.970 453.197 
L 727.279 453.197 
L 727.279 453.197 
L 730.588 453.197 
L 730.588 487.722 
L 733.897 487.722 
L 733.897 491.901 
L 737.205 491.901 
L 737.205 480.696 
L 740.514 480.696 
L 740.514 494.385 
L 743.823 494.385 
L 743.823 514.918 
L 747.132 514.918 
L 747.132 504.439 
L 750.441 504.439 
L 750.441 513.585 
L 753.75 513.585 
L 753.75 495.596 
L 757.058 495.596 
L 757.058 521.944 
L 760.367 521.944 
L 760.367 547.019 
L 763.676 547.019 
L 763.676 518.128 
L 766.985 518.128 
L 766.985 518.128 
L 770.294 518.128 
L 770.294 532.483 
L 773.602 532.483 
L 773.602 511.465 
L 776.911 511.465 
L 776.911 508.073 
L 780.220 508.073 
L 780.220 498.564 
L 783.529 498.564 
L 783.529 467.673 
L 786.838 467.673 
L 786.838 449.018 
L 790.147 449.018 
L 790.147 428.848 
L 793.455 428.848 
L 793.455 382.755 
L 796.764 382.755 
L 796.764 405.287 
L 800.073 405.287 
L 800.073 380.756 
L 803.382 380.756 
L 803.382 375.426 
L 806.691 375.426 
L 806.691 360.223 
L 810 360.223 
L 810 360.223 
" clip-path="url(#pf72a9b010e)" style="fill: none; stroke: #1f77b4; stroke-width: 1.5; stroke-linecap: square"/>
   </g>
   <g id="LineCollection_6">
    <path d="M 709.029 465.675 
L 709.029 457.316 
" clip-path="url(#pf72a9b010e)" style="fill: none; stroke: #ff0000; stroke-opacity: 0.5; stroke-width: 1.5"/>
    <path d="M 712.234 456.468 
L 712.234 448.110 
" clip-path="url(#pf72a9b010e)" style="fill: none; stroke: #ff0000; stroke-opacity: 0.5; stroke-width: 1.5"/>
    <path d="M 715.440 457.740 
L 715.440 449.382 
" clip-path="url(#pf72a9b010e)" style="fill: none; stroke: #ff0000; stroke-opacity: 0.5; stroke-width: 1.5"/>
    <path d="M 718.645 451.441 
L 718.645 443.082 
" clip-path="url(#pf72a9b010e)" style="fill: none; stroke: #ff0000; stroke-opacity: 0.5; stroke-width: 1.5"/>
    <path d="M 721.850 465.796 
L 721.850 458.285 
" clip-path="url(#pf72a9b010e)" style="fill: none; stroke: #ff0000; stroke-opacity: 0.5; stroke-width: 1.5"/>
    <path d="M 725.056 463.979 
L 725.056 456.468 
" clip-path="url(#pf72a9b010e)" style="fill: none; stroke: #ff0000; stroke-opacity: 0.5; stroke-width: 1.5"/>
    <path d="M 728.261 463.555 
L 728.261 456.044 
" clip-path="url(#pf72a9b010e)" style="fill: none; stroke: #ff0000; stroke-opacity: 0.5; stroke-width: 1.5"/>
    <path d="M 731.467 463.736 
L 731.467 455.862 
" clip-path="url(#pf72a9b010e)" style="fill: none; stroke: #ff0000; stroke-opacity: 0.5; stroke-width: 1.5"/>
    <path d="M 734.672 461.919 
L 734.672 455.257 
" clip-path="url(#pf72a9b010e)" style="fill: none; stroke: #ff0000; stroke-opacity: 0.5; stroke-width: 1.5"/>
    <path d="M 737.877 459.375 
L 737.877 452.713 
" clip-path="url(#pf72a9b010e)" style="fill: none; stroke: #ff0000; stroke-opacity: 0.5; stroke-width: 1.5"/>
    <path d="M 741.083 454.772 
L 741.083 448.110 
" clip-path="url(#pf72a9b010e)" style="fill: none; stroke: #ff0000; stroke-opacity: 0.5; stroke-width: 1.5"/>
    <path d="M 744.288 461.374 
L 744.288 454.954 
" clip-path="url(#pf72a9b010e)" style="fill: none; stroke: #ff0000; stroke-opacity: 0.5; stroke-width: 1.5"/>
    <path d="M 747.494 463.676 
L 747.494 457.619 
" clip-path="url(#pf72a9b010e)" style="fill: none; stroke: #ff0000; stroke-opacity: 0.5; stroke-width: 1.5"/>
    <path d="M 750.699 456.468 
L 750.699 449.806 
" clip-path="url(#pf72a9b010e)" style="fill: none; stroke: #ff0000; stroke-opacity: 0.5; stroke-width: 1.5"/>
    <path d="M 753.905 461.919 
L 753.905 455.257 
" clip-path="url(#pf72a9b010e)" style="fill: none; stroke: #ff0000; stroke-opacity: 0.5; stroke-width: 1.5"/>
    <path d="M 757.110 455.984 
L 757.110 449.079 
" clip-path="url(#pf72a9b010e)" style="fill: none; stroke: #ff0000; stroke-opacity: 0.5; stroke-width: 1.5"/>
    <path d="M 760.315 464.160 
L 760.315 456.286 
" clip-path="url(#pf72a9b010e)" style="fill: none; stroke: #ff0000; stroke-opacity: 0.5; stroke-width: 1.5"/>
    <path d="M 763.521 461.314 
L 763.521 455.014 
" clip-path="url(#pf72a9b010e)" style="fill: none; stroke: #ff0000; stroke-opacity: 0.5; stroke-width: 1.5"/>
    <path d="M 766.726 461.314 
L 766.726 454.167 
" clip-path="url(#pf72a9b010e)" style="fill: none; stroke: #ff0000; stroke-opacity: 0.5; stroke-width: 1.5"/>
    <path d="M 769.932 460.769 
L 769.932 454.348 
" clip-path="url(#pf72a9b010e)" style="fill: none; stroke: #ff0000; stroke-opacity: 0.5; stroke-width: 1.5"/>
    <path d="M 773.137 462.949 
L 773.137 455.802 
" clip-path="url(#pf72a9b010e)" style="fill: none; stroke: #ff0000; stroke-opacity: 0.5; stroke-width: 1.5"/>
    <path d="M 776.343 459.618 
L 776.343 452.471 
" clip-path="url(#pf72a9b010e)" style="fill: none; stroke: #ff0000; stroke-opacity: 0.5; stroke-width: 1.5"/>
    <path d="M 779.548 457.740 
L 779.548 451.077 
" clip-path="url(#pf72a9b010e)" style="fill: none; stroke: #ff0000; stroke-opacity: 0.5; stroke-width: 1.5"/>
    <path d="M 782.753 459.618 
L 782.753 452.471 
" clip-path="url(#pf72a9b010e)" style="fill: none; stroke: #ff0000; stroke-opacity: 0.5; stroke-width: 1.5"/>
    <path d="M 785.959 463.373 
L 785.959 456.226 
" clip-path="url(#pf72a9b010e)" style="fill: none; stroke: #ff0000; stroke-opacity: 0.5; stroke-width: 1.5"/>
    <path d="M 789.164 457.982 
L 789.164 450.835 
" clip-path="url(#pf72a9b010e)" style="fill: none; stroke: #ff0000; stroke-opacity: 0.5; stroke-width: 1.5"/>
    <path d="M 792.370 460.405 
L 792.370 451.683 
" clip-path="url(#pf72a9b010e)" style="fill: none; stroke: #ff0000; stroke-opacity: 0.5; stroke-width: 1.5"/>
    <path d="M 795.575 456.226 
L 795.575 448.352 
" clip-path="url(#pf72a9b010e)" style="fill: none; stroke: #ff0000; stroke-opacity: 0.5; stroke-width: 1.5"/>
    <path d="M 798.781 466.220 
L 798.781 458.346 
" clip-path="url(#pf72a9b010e)" style="fill: none; stroke: #ff0000; stroke-opacity: 0.5; stroke-width: 1.5"/>
    <path d="M 801.986 464.827 
L 801.986 455.620 
" clip-path="url(#pf72a9b010e)" style="fill: none; stroke: #ff0000; stroke-opacity: 0.5; stroke-width: 1.5"/>
    <path d="M 805.191 465.190 
L 805.191 455.620 
" clip-path="url(#pf72a9b010e)" style="fill: none; stroke: #ff0000; stroke-opacity: 0.5; stroke-width: 1.5"/>
    <path d="M 808.397 461.677 
L 808.397 452.471 
" clip-path="url(#pf72a9b010e)" style="fill: none; stroke: #ff0000; stroke-opacity: 0.5; stroke-width: 1.5"/>
   </g>
   <g id="line2d_90">
    <g clip-path="url(#pf72a9b010e)">
     <path d="M -3 0 L 3 0 M 0 3 L 0 -3" transform="translate(709.029 461.495)" style="fill: #ff0000; fill-opacity: 0.5; stroke: #ff0000; stroke-opacity: 0.5"/>
     <path d="M -3 0 L 3 0 M 0 3 L 0 -3" transform="translate(712.234 452.289)" style="fill: #ff0000; fill-opacity: 0.5; stroke: #ff0000; stroke-opacity: 0.5"/>
     <path d="M -3 0 L 3 0 M 0 3 L 0 -3" transform="translate(715.440 453.561)" style="fill: #ff0000; fill-opacity: 0.5; stroke: #ff0000; stroke-opacity: 0.5"/>
     <path d="M -3 0 L 3 0 M 0 3 L 0 -3" transform="translate(718.645 447.262)" style="fill: #ff0000; fill-opacity: 0.5; stroke: #ff0000; stroke-opacity: 0.5"/>
     <path d="M -3 0 L 3 0 M 0 3 L 0 -3" transform="translate(721.850 462.041)" style="fill: #ff0000; fill-opacity: 0.5; stroke: #ff0000; stroke-opacity: 0.5"/>
     <path d="M -3 0 L 3 0 M 0 3 L 0 -3" transform="translate(725.056 460.223)" style="fill: #ff0000; fill-opacity: 0.5; stroke: #ff0000; stroke-opacity: 0.5"/>
     <path d="M -3 0 L 3 0 M 0 3 L 0 -3" transform="translate(728.261 459.799)" style="fill: #ff0000; fill-opacity: 0.5; stroke: #ff0000; stroke-opacity: 0.5"/>
     <path d="M -3 0 L 3 0 M 0 3 L 0 -3" transform="translate(731.467 459.799)" style="fill: #ff0000; fill-opacity: 0.5; stroke: #ff0000; stroke-opacity: 0.5"/>
     <path d="M -3 0 L 3 0 M 0 3 L 0 -3" transform="translate(734.672 458.588)" style="fill: #ff0000; fill-opacity: 0.5; stroke: #ff0000; stroke-opacity: 0.5"/>
     <path d="M -3 0 L 3 0 M 0 3 L 0 -3" transform="translate(737.877 456.044)" style="fill: #ff0000; fill-opacity: 0.5; stroke: #ff0000; stroke-opacity: 0.5"/>
     <path d="M -3 0 L 3 0 M 0 3 L 0 -3" transform="translate(741.083 451.441)" style="fill: #ff0000; fill-opacity: 0.5; stroke: #ff0000; stroke-opacity: 0.5"/>
     <path d="M -3 0 L 3 0 M 0 3 L 0 -3" transform="translate(744.288 458.164)" style="fill: #ff0000; fill-opacity: 0.5; stroke: #ff0000; stroke-opacity: 0.5"/>
     <path d="M -3 0 L 3 0 M 0 3 L 0 -3" transform="translate(747.494 460.647)" style="fill: #ff0000; fill-opacity: 0.5; stroke: #ff0000; stroke-opacity: 0.5"/>
     <path d="M -3 0 L 3 0 M 0 3 L 0 -3" transform="translate(750.699 453.137)" style="fill: #ff0000; fill-opacity: 0.5; stroke: #ff0000; stroke-opacity: 0.5"/>
     <path d="M -3 0 L 3 0 M 0 3 L 0 -3" transform="translate(753.905 458.588)" style="fill: #ff0000; fill-opacity: 0.5; stroke: #ff0000; stroke-opacity: 0.5"/>
     <path d="M -3 0 L 3 0 M 0 3 L 0 -3" transform="translate(757.110 452.531)" style="fill: #ff0000; fill-opacity: 0.5; stroke: #ff0000; stroke-opacity: 0.5"/>
     <path d="M -3 0 L 3 0 M 0 3 L 0 -3" transform="translate(760.315 460.223)" style="fill: #ff0000; fill-opacity: 0.5; stroke: #ff0000; stroke-opacity: 0.5"/>
     <path d="M -3 0 L 3 0 M 0 3 L 0 -3" transform="translate(763.521 458.164)" style="fill: #ff0000; fill-opacity: 0.5; stroke: #ff0000; stroke-opacity: 0.5"/>
     <path d="M -3 0 L 3 0 M 0 3 L 0 -3" transform="translate(766.726 457.740)" style="fill: #ff0000; fill-opacity: 0.5; stroke: #ff0000; stroke-opacity: 0.5"/>
     <path d="M -3 0 L 3 0 M 0 3 L 0 -3" transform="translate(769.932 457.558)" style="fill: #ff0000; fill-opacity: 0.5; stroke: #ff0000; stroke-opacity: 0.5"/>
     <path d="M -3 0 L 3 0 M 0 3 L 0 -3" transform="translate(773.137 459.375)" style="fill: #ff0000; fill-opacity: 0.5; stroke: #ff0000; stroke-opacity: 0.5"/>
     <path d="M -3 0 L 3 0 M 0 3 L 0 -3" transform="translate(776.343 456.044)" style="fill: #ff0000; fill-opacity: 0.5; stroke: #ff0000; stroke-opacity: 0.5"/>
     <path d="M -3 0 L 3 0 M 0 3 L 0 -3" transform="translate(779.548 454.409)" style="fill: #ff0000; fill-opacity: 0.5; stroke: #ff0000; stroke-opacity: 0.5"/>
     <path d="M -3 0 L 3 0 M 0 3 L 0 -3" transform="translate(782.753 456.044)" style="fill: #ff0000; fill-opacity: 0.5; stroke: #ff0000; stroke-opacity: 0.5"/>
     <path d="M -3 0 L 3 0 M 0 3 L 0 -3" transform="translate(785.959 459.799)" style="fill: #ff0000; fill-opacity: 0.5; stroke: #ff0000; stroke-opacity: 0.5"/>
     <path d="M -3 0 L 3 0 M 0 3 L 0 -3" transform="translate(789.164 454.409)" style="fill: #ff0000; fill-opacity: 0.5; stroke: #ff0000; stroke-opacity: 0.5"/>
     <path d="M -3 0 L 3 0 M 0 3 L 0 -3" transform="translate(792.370 456.044)" style="fill: #ff0000; fill-opacity: 0.5; stroke: #ff0000; stroke-opacity: 0.5"/>
     <path d="M -3 0 L 3 0 M 0 3 L 0 -3" transform="translate(795.575 452.289)" style="fill: #ff0000; fill-opacity: 0.5; stroke: #ff0000; stroke-opacity: 0.5"/>
     <path d="M -3 0 L 3 0 M 0 3 L 0 -3" transform="translate(798.781 462.283)" style="fill: #ff0000; fill-opacity: 0.5; stroke: #ff0000; stroke-opacity: 0.5"/>
     <path d="M -3 0 L 3 0 M 0 3 L 0 -3" transform="translate(801.986 460.223)" style="fill: #ff0000; fill-opacity: 0.5; stroke: #ff0000; stroke-opacity: 0.5"/>
     <path d="M -3 0 L 3 0 M 0 3 L 0 -3" transform="translate(805.191 460.405)" style="fill: #ff0000; fill-opacity: 0.5; stroke: #ff0000; stroke-opacity: 0.5"/>
     <path d="M -3 0 L 3 0 M 0 3 L 0 -3" transform="translate(808.397 457.074)" style="fill: #ff0000; fill-opacity: 0.5; stroke: #ff0000; stroke-opacity: 0.5"/>
    </g>
   </g>
   <g id="patch_28">
    <path d="M 604.852 554.47 
L 604.852 336.42 
" style="fill: none; stroke: #000000; stroke-width: 0.8; stroke-linejoin: miter; stroke-linecap: square"/>
   </g>
   <g id="patch_29">
    <path d="M 810 554.47 
L 810 336.42 
" style="fill: none; stroke: #000000; stroke-width: 0.8; stroke-linejoin: miter; stroke-linecap: square"/>
   </g>
   <g id="patch_30">
    <path d="M 604.852 554.47 
L 810 554.47 
" style="fill: none; stroke: #000000; stroke-width: 0.8; stroke-linejoin: miter; stroke-linecap: square"/>
   </g>
   <g id="patch_31">
    <path d="M 604.852 336.42 
L 810 336.42 
" style="fill: none; stroke: #000000; stroke-width: 0.8; stroke-linejoin: miter; stroke-linecap: square"/>
   </g>
   <g id="text_84">
    <text style="font-size: 12px; font-family: 'DejaVu Sans', sans-serif; text-anchor: middle" x="707.426" y="330.42" transform="translate(707.426 0.8) scale(0.965 1) translate(-707.426 0)">Post-Glitch 3, 18749 photons</text>
   </g>
  </g>
 </g>
 <defs>
  <clipPath id="p9d9ce31a6b">
   <rect x="112.5" y="74.76" width="205.147" height="218.05"/>
  </clipPath>
  <clipPath id="p3eddc019a9">
   <rect x="358.676" y="74.76" width="205.147" height="218.05"/>
  </clipPath>
  <clipPath id="p5869acaab5">
   <rect x="604.852" y="74.76" width="205.147" height="218.05"/>
  </clipPath>
  <clipPath id="p94d9b85a06">
   <rect x="112.5" y="336.42" width="205.147" height="218.05"/>
  </clipPath>
  <clipPath id="p2fe0086be9">
   <rect x="358.676" y="336.42" width="205.147" height="218.05"/>
  </clipPath>
  <clipPath id="pf72a9b010e">
   <rect x="604.852" y="336.42" width="205.147" height="218.05"/>
  </clipPath>
 </defs>
</svg>
</body></html>
